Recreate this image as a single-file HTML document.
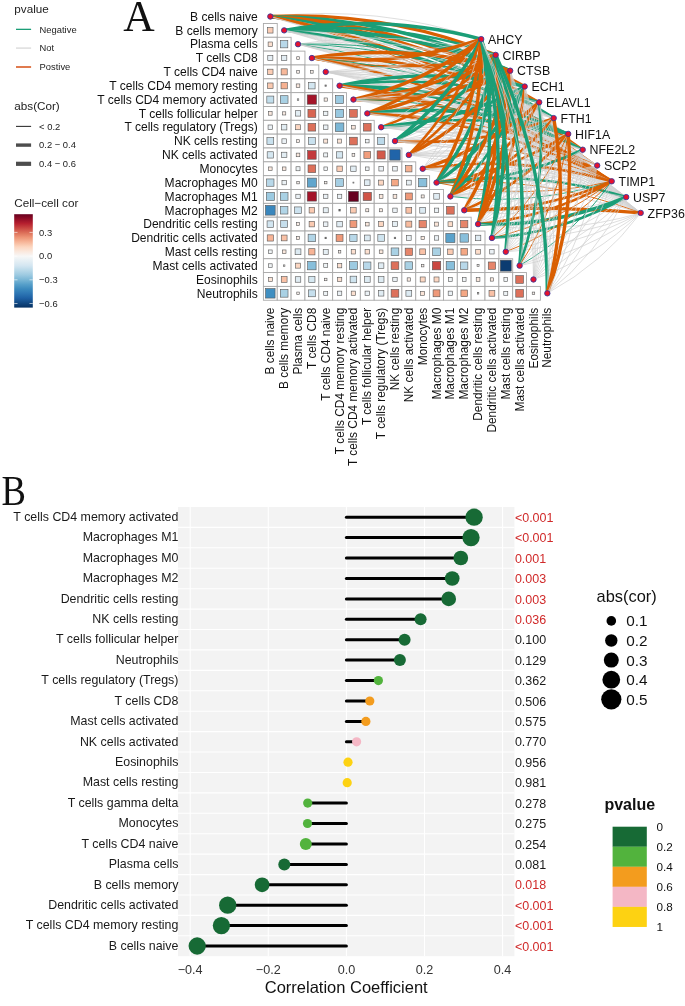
<!DOCTYPE html><html><head><meta charset="utf-8"><style>html,body{margin:0;padding:0;background:#fff;}svg{display:block;will-change:transform;}</style></head><body>
<svg width="685" height="1006" viewBox="0 0 685 1006" font-family='"Liberation Sans", sans-serif'>
<rect width="685" height="1006" fill="#fff"/>
<text x="123.3" y="30.7" font-family='"Liberation Serif", serif' font-size="43.5" fill="#111">A</text>
<text x="14.3" y="13.2" font-size="11.7" fill="#222">pvalue</text>
<line x1="16" y1="29.35" x2="31.1" y2="29.35" stroke="#1B9E77" stroke-width="1.3"/>
<text x="39.6" y="32.6" font-size="9.4" fill="#222">Negative</text>
<line x1="16" y1="48.1" x2="31.1" y2="48.1" stroke="#DDDDDD" stroke-width="1.5"/>
<text x="39.6" y="51.4" font-size="9.4" fill="#222">Not</text>
<line x1="16" y1="67.0" x2="31.1" y2="67.0" stroke="#E07B4F" stroke-width="2.0"/>
<text x="39.6" y="70.3" font-size="9.4" fill="#222">Postive</text>
<text x="14.3" y="110.3" font-size="11.7" fill="#222">abs(Cor)</text>
<line x1="16" y1="126.4" x2="31.1" y2="126.4" stroke="#333" stroke-width="1.1"/>
<text x="39.1" y="129.7" font-size="9.4" fill="#222">&lt; 0.2</text>
<line x1="16" y1="145.1" x2="31.1" y2="145.1" stroke="#4D4D4D" stroke-width="3.4"/>
<text x="39.1" y="148.4" font-size="9.4" fill="#222">0.2 − 0.4</text>
<line x1="16" y1="163.8" x2="31.1" y2="163.8" stroke="#4D4D4D" stroke-width="4.2"/>
<text x="39.1" y="167.1" font-size="9.4" fill="#222">0.4 − 0.6</text>
<text x="14.3" y="207.4" font-size="11.7" fill="#222">Cell−cell cor</text>
<defs><linearGradient id="cb" x1="0" y1="0" x2="0" y2="1">
<stop offset="0.000" stop-color="#67001f"/>
<stop offset="0.050" stop-color="#910d26"/>
<stop offset="0.100" stop-color="#b6202f"/>
<stop offset="0.150" stop-color="#ca4842"/>
<stop offset="0.200" stop-color="#dd7059"/>
<stop offset="0.250" stop-color="#ee9677"/>
<stop offset="0.300" stop-color="#f7b79a"/>
<stop offset="0.350" stop-color="#fcd6c0"/>
<stop offset="0.400" stop-color="#fae8dd"/>
<stop offset="0.450" stop-color="#f7f7f7"/>
<stop offset="0.500" stop-color="#e5eff4"/>
<stop offset="0.550" stop-color="#d4e6f1"/>
<stop offset="0.600" stop-color="#b9d9e9"/>
<stop offset="0.650" stop-color="#9dcae1"/>
<stop offset="0.700" stop-color="#7bb7d6"/>
<stop offset="0.750" stop-color="#57a0ca"/>
<stop offset="0.800" stop-color="#3c8abe"/>
<stop offset="0.850" stop-color="#2d76b4"/>
<stop offset="0.900" stop-color="#1e60a4"/>
<stop offset="0.950" stop-color="#114882"/>
<stop offset="1.000" stop-color="#053061"/>
</linearGradient></defs>
<rect x="14.2" y="214.2" width="18.6" height="93.4" fill="url(#cb)"/>
<line x1="14.2" y1="232.4" x2="17.5" y2="232.4" stroke="#fff" stroke-width="0.6"/>
<line x1="29.5" y1="232.4" x2="32.8" y2="232.4" stroke="#fff" stroke-width="0.6"/>
<text x="39.1" y="235.7" font-size="9.4" fill="#222">0.3</text>
<line x1="14.2" y1="256.1" x2="17.5" y2="256.1" stroke="#fff" stroke-width="0.6"/>
<line x1="29.5" y1="256.1" x2="32.8" y2="256.1" stroke="#fff" stroke-width="0.6"/>
<text x="39.1" y="259.4" font-size="9.4" fill="#222">0.0</text>
<line x1="14.2" y1="279.8" x2="17.5" y2="279.8" stroke="#fff" stroke-width="0.6"/>
<line x1="29.5" y1="279.8" x2="32.8" y2="279.8" stroke="#fff" stroke-width="0.6"/>
<text x="39.1" y="283.1" font-size="9.4" fill="#222">−0.3</text>
<line x1="14.2" y1="303.5" x2="17.5" y2="303.5" stroke="#fff" stroke-width="0.6"/>
<line x1="29.5" y1="303.5" x2="32.8" y2="303.5" stroke="#fff" stroke-width="0.6"/>
<text x="39.1" y="306.8" font-size="9.4" fill="#222">−0.6</text>
<g fill="none" stroke-linecap="butt">
<path d="M270.3 16.5Q378.2 4.6 481.2 39.1" stroke="#D0D0D0" stroke-width="0.7"/>
<path d="M270.3 16.5Q387.2 10.9 495.7 54.9" stroke="#D95F02" stroke-width="3.4"/>
<path d="M270.3 16.5Q396.2 17.2 510.2 70.7" stroke="#1B9E77" stroke-width="3.4"/>
<path d="M270.3 16.5Q405.2 23.5 524.7 86.5" stroke="#D95F02" stroke-width="3.4"/>
<path d="M270.3 16.5Q414.2 29.8 539.2 102.3" stroke="#D95F02" stroke-width="2.6"/>
<path d="M270.3 16.5Q423.2 36.1 553.7 118.1" stroke="#1B9E77" stroke-width="3.4"/>
<path d="M270.3 16.5Q432.2 42.4 568.2 133.9" stroke="#D0D0D0" stroke-width="0.7"/>
<path d="M270.3 16.5Q441.2 48.7 582.7 149.7" stroke="#D95F02" stroke-width="2.6"/>
<path d="M270.3 16.5Q450.2 55.1 597.2 165.5" stroke="#D95F02" stroke-width="0.9"/>
<path d="M270.3 16.5Q459.1 61.4 611.7 181.3" stroke="#D95F02" stroke-width="0.9"/>
<path d="M270.3 16.5Q468.1 67.7 626.2 197.1 M270.3 16.5Q477.1 74.0 640.7 212.9" stroke="#D0D0D0" stroke-width="0.7"/>
<path d="M284.2 30.4Q383.6 13.1 481.2 39.1" stroke="#1B9E77" stroke-width="3.4"/>
<path d="M284.2 30.4Q392.6 19.4 495.7 54.9" stroke="#1B9E77" stroke-width="2.6"/>
<path d="M284.2 30.4Q401.6 25.7 510.2 70.7" stroke="#1B9E77" stroke-width="3.4"/>
<path d="M284.2 30.4Q410.6 32.0 524.7 86.5 M284.2 30.4Q419.6 38.3 539.2 102.3" stroke="#D0D0D0" stroke-width="0.7"/>
<path d="M284.2 30.4Q428.6 44.6 553.7 118.1" stroke="#1B9E77" stroke-width="2.6"/>
<path d="M284.2 30.4Q437.6 50.9 568.2 133.9 M284.2 30.4Q446.6 57.2 582.7 149.7 M284.2 30.4Q455.6 63.5 597.2 165.5 M284.2 30.4Q464.5 69.8 611.7 181.3 M284.2 30.4Q473.5 76.1 626.2 197.1 M284.2 30.4Q482.5 82.4 640.7 212.9 M298.0 44.2Q390.2 61.8 481.2 39.1 M298.0 44.2Q398.0 27.8 495.7 54.9 M298.0 44.2Q407.0 34.1 510.2 70.7" stroke="#D0D0D0" stroke-width="0.7"/>
<path d="M298.0 44.2Q416.0 40.4 524.7 86.5" stroke="#1B9E77" stroke-width="0.9"/>
<path d="M298.0 44.2Q425.0 46.7 539.2 102.3" stroke="#1B9E77" stroke-width="0.9"/>
<path d="M298.0 44.2Q434.0 53.0 553.7 118.1 M298.0 44.2Q443.0 59.3 568.2 133.9" stroke="#D0D0D0" stroke-width="0.7"/>
<path d="M298.0 44.2Q452.0 65.6 582.7 149.7" stroke="#1B9E77" stroke-width="0.9"/>
<path d="M298.0 44.2Q461.0 71.9 597.2 165.5 M298.0 44.2Q469.9 78.2 611.7 181.3 M298.0 44.2Q478.9 84.6 626.2 197.1 M298.0 44.2Q487.9 90.9 640.7 212.9" stroke="#D0D0D0" stroke-width="0.7"/>
<path d="M311.9 58.0Q398.6 67.2 481.2 39.1" stroke="#D95F02" stroke-width="3.4"/>
<path d="M311.9 58.0Q404.1 76.7 495.7 54.9" stroke="#D95F02" stroke-width="2.6"/>
<path d="M311.9 58.0Q412.4 42.6 510.2 70.7" stroke="#D95F02" stroke-width="3.4"/>
<path d="M311.9 58.0Q421.4 48.9 524.7 86.5" stroke="#D0D0D0" stroke-width="0.7"/>
<path d="M311.9 58.0Q430.4 55.2 539.2 102.3" stroke="#D95F02" stroke-width="2.6"/>
<path d="M311.9 58.0Q439.4 61.5 553.7 118.1" stroke="#D0D0D0" stroke-width="0.7"/>
<path d="M311.9 58.0Q448.4 67.8 568.2 133.9" stroke="#1B9E77" stroke-width="0.9"/>
<path d="M311.9 58.0Q457.4 74.1 582.7 149.7 M311.9 58.0Q466.4 80.4 597.2 165.5" stroke="#D0D0D0" stroke-width="0.7"/>
<path d="M311.9 58.0Q475.3 86.7 611.7 181.3" stroke="#D95F02" stroke-width="2.6"/>
<path d="M311.9 58.0Q484.3 93.0 626.2 197.1 M311.9 58.0Q493.3 99.3 640.7 212.9 M325.7 71.9Q407.1 72.6 481.2 39.1 M325.7 71.9Q412.6 82.1 495.7 54.9 M325.7 71.9Q418.1 91.6 510.2 70.7 M325.7 71.9Q426.8 57.3 524.7 86.5 M325.7 71.9Q435.8 63.6 539.2 102.3 M325.7 71.9Q444.8 69.9 553.7 118.1 M325.7 71.9Q453.8 76.2 568.2 133.9 M325.7 71.9Q462.8 82.5 582.7 149.7 M325.7 71.9Q471.8 88.8 597.2 165.5 M325.7 71.9Q480.7 95.1 611.7 181.3 M325.7 71.9Q489.7 101.4 626.2 197.1 M325.7 71.9Q498.7 107.7 640.7 212.9 M339.6 85.7Q415.5 78.0 481.2 39.1 M339.6 85.7Q421.0 87.5 495.7 54.9 M339.6 85.7Q426.5 97.0 510.2 70.7" stroke="#D0D0D0" stroke-width="0.7"/>
<path d="M339.6 85.7Q432.2 65.7 524.7 86.5" stroke="#1B9E77" stroke-width="3.4"/>
<path d="M339.6 85.7Q441.2 72.1 539.2 102.3" stroke="#1B9E77" stroke-width="2.6"/>
<path d="M339.6 85.7Q450.2 78.4 553.7 118.1" stroke="#D0D0D0" stroke-width="0.7"/>
<path d="M339.6 85.7Q459.2 84.7 568.2 133.9" stroke="#1B9E77" stroke-width="2.6"/>
<path d="M339.6 85.7Q468.2 91.0 582.7 149.7" stroke="#1B9E77" stroke-width="2.6"/>
<path d="M339.6 85.7Q477.2 97.3 597.2 165.5" stroke="#D0D0D0" stroke-width="0.7"/>
<path d="M339.6 85.7Q486.2 103.6 611.7 181.3" stroke="#D95F02" stroke-width="3.4"/>
<path d="M339.6 85.7Q495.1 109.9 626.2 197.1 M339.6 85.7Q504.1 116.2 640.7 212.9" stroke="#D0D0D0" stroke-width="0.7"/>
<path d="M353.4 99.6Q424.0 83.4 481.2 39.1" stroke="#D95F02" stroke-width="3.4"/>
<path d="M353.4 99.6Q429.5 92.9 495.7 54.9" stroke="#D95F02" stroke-width="3.4"/>
<path d="M353.4 99.6Q435.0 102.4 510.2 70.7" stroke="#D95F02" stroke-width="3.4"/>
<path d="M353.4 99.6Q440.5 111.9 524.7 86.5 M353.4 99.6Q446.6 80.5 539.2 102.3 M353.4 99.6Q455.6 86.8 553.7 118.1 M353.4 99.6Q464.6 93.1 568.2 133.9" stroke="#D0D0D0" stroke-width="0.7"/>
<path d="M353.4 99.6Q473.6 99.4 582.7 149.7" stroke="#1B9E77" stroke-width="0.9"/>
<path d="M353.4 99.6Q482.6 105.7 597.2 165.5 M353.4 99.6Q491.6 112.0 611.7 181.3 M353.4 99.6Q500.5 118.3 626.2 197.1 M353.4 99.6Q509.5 124.6 640.7 212.9" stroke="#D0D0D0" stroke-width="0.7"/>
<path d="M367.3 113.4Q432.4 88.8 481.2 39.1" stroke="#D95F02" stroke-width="3.4"/>
<path d="M367.3 113.4Q437.9 98.3 495.7 54.9" stroke="#D95F02" stroke-width="3.4"/>
<path d="M367.3 113.4Q443.4 107.8 510.2 70.7" stroke="#D95F02" stroke-width="2.6"/>
<path d="M367.3 113.4Q448.9 117.3 524.7 86.5 M367.3 113.4Q454.5 126.8 539.2 102.3 M367.3 113.4Q461.0 95.2 553.7 118.1" stroke="#D0D0D0" stroke-width="0.7"/>
<path d="M367.3 113.4Q470.0 101.5 568.2 133.9" stroke="#1B9E77" stroke-width="3.4"/>
<path d="M367.3 113.4Q479.0 107.9 582.7 149.7" stroke="#D0D0D0" stroke-width="0.7"/>
<path d="M367.3 113.4Q488.0 114.2 597.2 165.5" stroke="#D95F02" stroke-width="0.9"/>
<path d="M367.3 113.4Q497.0 120.5 611.7 181.3" stroke="#D95F02" stroke-width="2.6"/>
<path d="M367.3 113.4Q505.9 126.8 626.2 197.1 M367.3 113.4Q514.9 133.1 640.7 212.9 M381.1 127.2Q440.9 94.2 481.2 39.1" stroke="#D0D0D0" stroke-width="0.7"/>
<path d="M381.1 127.2Q446.4 103.7 495.7 54.9" stroke="#D95F02" stroke-width="2.6"/>
<path d="M381.1 127.2Q451.9 113.2 510.2 70.7" stroke="#D0D0D0" stroke-width="0.7"/>
<path d="M381.1 127.2Q457.4 122.7 524.7 86.5" stroke="#1B9E77" stroke-width="3.4"/>
<path d="M381.1 127.2Q462.9 132.2 539.2 102.3 M381.1 127.2Q468.4 141.7 553.7 118.1" stroke="#D0D0D0" stroke-width="0.7"/>
<path d="M381.1 127.2Q475.4 110.0 568.2 133.9" stroke="#1B9E77" stroke-width="2.6"/>
<path d="M381.1 127.2Q484.4 116.3 582.7 149.7 M381.1 127.2Q493.4 122.6 597.2 165.5 M381.1 127.2Q502.4 128.9 611.7 181.3 M381.1 127.2Q511.3 135.2 626.2 197.1 M381.1 127.2Q520.3 141.5 640.7 212.9" stroke="#D0D0D0" stroke-width="0.7"/>
<path d="M395.0 141.1Q449.3 99.6 481.2 39.1" stroke="#1B9E77" stroke-width="3.4"/>
<path d="M395.0 141.1Q454.8 109.1 495.7 54.9" stroke="#1B9E77" stroke-width="3.4"/>
<path d="M395.0 141.1Q460.3 118.6 510.2 70.7 M395.0 141.1Q465.8 128.1 524.7 86.5 M395.0 141.1Q471.4 137.6 539.2 102.3" stroke="#D0D0D0" stroke-width="0.7"/>
<path d="M395.0 141.1Q476.9 147.0 553.7 118.1" stroke="#D95F02" stroke-width="2.6"/>
<path d="M395.0 141.1Q482.4 156.5 568.2 133.9 M395.0 141.1Q489.8 124.7 582.7 149.7 M395.0 141.1Q498.8 131.0 597.2 165.5" stroke="#D0D0D0" stroke-width="0.7"/>
<path d="M395.0 141.1Q507.8 137.4 611.7 181.3" stroke="#D95F02" stroke-width="0.9"/>
<path d="M395.0 141.1Q516.7 143.7 626.2 197.1 M395.0 141.1Q525.7 150.0 640.7 212.9" stroke="#D0D0D0" stroke-width="0.7"/>
<path d="M408.8 154.9Q457.8 105.0 481.2 39.1" stroke="#D95F02" stroke-width="2.6"/>
<path d="M408.8 154.9Q463.3 114.5 495.7 54.9" stroke="#D95F02" stroke-width="2.6"/>
<path d="M408.8 154.9Q468.8 124.0 510.2 70.7" stroke="#D95F02" stroke-width="3.4"/>
<path d="M408.8 154.9Q474.3 133.5 524.7 86.5 M408.8 154.9Q479.8 143.0 539.2 102.3 M408.8 154.9Q485.3 152.4 553.7 118.1 M408.8 154.9Q490.8 161.9 568.2 133.9 M408.8 154.9Q496.3 171.4 582.7 149.7 M408.8 154.9Q504.2 139.5 597.2 165.5 M408.8 154.9Q513.2 145.8 611.7 181.3 M408.8 154.9Q522.2 152.1 626.2 197.1 M408.8 154.9Q531.1 158.4 640.7 212.9 M422.7 168.8Q466.2 110.4 481.2 39.1 M422.7 168.8Q471.7 119.9 495.7 54.9 M422.7 168.8Q477.2 129.4 510.2 70.7 M422.7 168.8Q482.7 138.9 524.7 86.5" stroke="#D0D0D0" stroke-width="0.7"/>
<path d="M422.7 168.8Q488.2 148.3 539.2 102.3" stroke="#D95F02" stroke-width="3.4"/>
<path d="M422.7 168.8Q493.8 157.8 553.7 118.1 M422.7 168.8Q499.3 167.3 568.2 133.9 M422.7 168.8Q504.8 176.8 582.7 149.7 M422.7 168.8Q510.3 186.3 597.2 165.5" stroke="#D0D0D0" stroke-width="0.7"/>
<path d="M422.7 168.8Q518.6 154.2 611.7 181.3" stroke="#D95F02" stroke-width="2.6"/>
<path d="M422.7 168.8Q527.6 160.5 626.2 197.1 M422.7 168.8Q536.5 166.8 640.7 212.9" stroke="#D0D0D0" stroke-width="0.7"/>
<path d="M436.5 182.6Q474.6 115.8 481.2 39.1" stroke="#D95F02" stroke-width="3.4"/>
<path d="M436.5 182.6Q480.2 125.3 495.7 54.9" stroke="#1B9E77" stroke-width="3.4"/>
<path d="M436.5 182.6Q485.7 134.8 510.2 70.7" stroke="#D0D0D0" stroke-width="0.7"/>
<path d="M436.5 182.6Q491.2 144.2 524.7 86.5" stroke="#1B9E77" stroke-width="3.4"/>
<path d="M436.5 182.6Q496.7 153.7 539.2 102.3 M436.5 182.6Q502.2 163.2 553.7 118.1" stroke="#D0D0D0" stroke-width="0.7"/>
<path d="M436.5 182.6Q507.7 172.7 568.2 133.9" stroke="#D95F02" stroke-width="2.6"/>
<path d="M436.5 182.6Q513.2 182.2 582.7 149.7" stroke="#1B9E77" stroke-width="2.6"/>
<path d="M436.5 182.6Q518.7 191.7 597.2 165.5" stroke="#D0D0D0" stroke-width="0.7"/>
<path d="M436.5 182.6Q524.3 201.2 611.7 181.3" stroke="#D95F02" stroke-width="0.9"/>
<path d="M436.5 182.6Q533.0 169.0 626.2 197.1" stroke="#1B9E77" stroke-width="2.6"/>
<path d="M436.5 182.6Q541.9 175.3 640.7 212.9" stroke="#D95F02" stroke-width="0.9"/>
<path d="M450.4 196.4Q483.1 121.2 481.2 39.1" stroke="#D95F02" stroke-width="3.4"/>
<path d="M450.4 196.4Q488.6 130.7 495.7 54.9" stroke="#1B9E77" stroke-width="3.4"/>
<path d="M450.4 196.4Q494.1 140.2 510.2 70.7" stroke="#D95F02" stroke-width="3.4"/>
<path d="M450.4 196.4Q499.6 149.6 524.7 86.5" stroke="#1B9E77" stroke-width="2.6"/>
<path d="M450.4 196.4Q505.1 159.1 539.2 102.3" stroke="#D95F02" stroke-width="2.6"/>
<path d="M450.4 196.4Q510.7 168.6 553.7 118.1" stroke="#D95F02" stroke-width="2.6"/>
<path d="M450.4 196.4Q516.2 178.1 568.2 133.9 M450.4 196.4Q521.7 187.6 582.7 149.7 M450.4 196.4Q527.2 197.1 597.2 165.5" stroke="#D0D0D0" stroke-width="0.7"/>
<path d="M450.4 196.4Q532.7 206.6 611.7 181.3" stroke="#1B9E77" stroke-width="0.9"/>
<path d="M450.4 196.4Q538.4 177.4 626.2 197.1 M450.4 196.4Q547.3 183.7 640.7 212.9 M464.2 210.3Q491.5 126.6 481.2 39.1 M464.2 210.3Q497.1 136.1 495.7 54.9" stroke="#D0D0D0" stroke-width="0.7"/>
<path d="M464.2 210.3Q502.6 145.5 510.2 70.7" stroke="#D95F02" stroke-width="3.4"/>
<path d="M464.2 210.3Q508.1 155.0 524.7 86.5 M464.2 210.3Q513.6 164.5 539.2 102.3 M464.2 210.3Q519.1 174.0 553.7 118.1" stroke="#D0D0D0" stroke-width="0.7"/>
<path d="M464.2 210.3Q524.6 183.5 568.2 133.9" stroke="#D95F02" stroke-width="2.6"/>
<path d="M464.2 210.3Q530.1 193.0 582.7 149.7 M464.2 210.3Q535.6 202.5 597.2 165.5" stroke="#D0D0D0" stroke-width="0.7"/>
<path d="M464.2 210.3Q541.2 212.0 611.7 181.3" stroke="#D95F02" stroke-width="2.6"/>
<path d="M464.2 210.3Q546.7 221.5 626.2 197.1" stroke="#D0D0D0" stroke-width="0.7"/>
<path d="M464.2 210.3Q552.6 205.4 640.7 212.9" stroke="#D95F02" stroke-width="3.4"/>
<path d="M478.1 224.1Q500.0 132.0 481.2 39.1" stroke="#1B9E77" stroke-width="3.4"/>
<path d="M478.1 224.1Q505.5 141.4 495.7 54.9" stroke="#D95F02" stroke-width="3.4"/>
<path d="M478.1 224.1Q511.0 150.9 510.2 70.7" stroke="#D95F02" stroke-width="3.4"/>
<path d="M478.1 224.1Q516.5 160.4 524.7 86.5" stroke="#D95F02" stroke-width="2.6"/>
<path d="M478.1 224.1Q522.0 169.9 539.2 102.3 M478.1 224.1Q527.5 179.4 553.7 118.1 M478.1 224.1Q533.1 188.9 568.2 133.9 M478.1 224.1Q538.6 198.4 582.7 149.7 M478.1 224.1Q544.1 207.9 597.2 165.5" stroke="#D0D0D0" stroke-width="0.7"/>
<path d="M478.1 224.1Q549.6 217.4 611.7 181.3" stroke="#D95F02" stroke-width="2.6"/>
<path d="M478.1 224.1Q555.1 226.9 626.2 197.1" stroke="#1B9E77" stroke-width="3.4"/>
<path d="M478.1 224.1Q560.6 236.4 640.7 212.9" stroke="#D0D0D0" stroke-width="0.7"/>
<path d="M491.9 238.0Q508.4 137.4 481.2 39.1" stroke="#1B9E77" stroke-width="3.4"/>
<path d="M491.9 238.0Q513.9 146.8 495.7 54.9" stroke="#1B9E77" stroke-width="3.4"/>
<path d="M491.9 238.0Q519.5 156.3 510.2 70.7 M491.9 238.0Q525.0 165.8 524.7 86.5 M491.9 238.0Q530.5 175.3 539.2 102.3 M491.9 238.0Q536.0 184.8 553.7 118.1" stroke="#D0D0D0" stroke-width="0.7"/>
<path d="M491.9 238.0Q541.5 194.3 568.2 133.9" stroke="#D95F02" stroke-width="0.9"/>
<path d="M491.9 238.0Q547.0 203.8 582.7 149.7 M491.9 238.0Q552.5 213.3 597.2 165.5" stroke="#D0D0D0" stroke-width="0.7"/>
<path d="M491.9 238.0Q558.0 222.8 611.7 181.3" stroke="#D95F02" stroke-width="0.9"/>
<path d="M491.9 238.0Q563.6 232.3 626.2 197.1" stroke="#1B9E77" stroke-width="2.6"/>
<path d="M491.9 238.0Q569.1 241.8 640.7 212.9" stroke="#D0D0D0" stroke-width="0.7"/>
<path d="M505.8 251.8Q516.9 142.7 481.2 39.1" stroke="#1B9E77" stroke-width="3.4"/>
<path d="M505.8 251.8Q522.4 152.2 495.7 54.9 M505.8 251.8Q527.9 161.7 510.2 70.7 M505.8 251.8Q533.4 171.2 524.7 86.5 M505.8 251.8Q538.9 180.7 539.2 102.3 M505.8 251.8Q544.4 190.2 553.7 118.1 M505.8 251.8Q550.0 199.7 568.2 133.9 M505.8 251.8Q555.5 209.2 582.7 149.7 M505.8 251.8Q561.0 218.7 597.2 165.5" stroke="#D0D0D0" stroke-width="0.7"/>
<path d="M505.8 251.8Q566.5 228.2 611.7 181.3" stroke="#D95F02" stroke-width="0.9"/>
<path d="M505.8 251.8Q572.0 237.7 626.2 197.1 M505.8 251.8Q577.5 247.2 640.7 212.9 M519.6 265.6Q525.3 148.1 481.2 39.1" stroke="#D0D0D0" stroke-width="0.7"/>
<path d="M519.6 265.6Q530.8 157.6 495.7 54.9" stroke="#1B9E77" stroke-width="3.4"/>
<path d="M519.6 265.6Q536.4 167.1 510.2 70.7 M519.6 265.6Q541.9 176.6 524.7 86.5" stroke="#D0D0D0" stroke-width="0.7"/>
<path d="M519.6 265.6Q547.4 186.1 539.2 102.3" stroke="#1B9E77" stroke-width="2.6"/>
<path d="M519.6 265.6Q552.9 195.6 553.7 118.1" stroke="#D0D0D0" stroke-width="0.7"/>
<path d="M519.6 265.6Q558.4 205.1 568.2 133.9" stroke="#D95F02" stroke-width="0.9"/>
<path d="M519.6 265.6Q563.9 214.6 582.7 149.7 M519.6 265.6Q569.4 224.1 597.2 165.5" stroke="#D0D0D0" stroke-width="0.7"/>
<path d="M519.6 265.6Q574.9 233.6 611.7 181.3" stroke="#1B9E77" stroke-width="0.9"/>
<path d="M519.6 265.6Q580.5 243.1 626.2 197.1 M519.6 265.6Q586.0 252.6 640.7 212.9 M533.5 279.5Q533.8 153.5 481.2 39.1 M533.5 279.5Q539.3 163.0 495.7 54.9 M533.5 279.5Q544.8 172.5 510.2 70.7 M533.5 279.5Q550.3 182.0 524.7 86.5 M533.5 279.5Q555.8 191.5 539.2 102.3 M533.5 279.5Q561.3 201.0 553.7 118.1 M533.5 279.5Q566.9 210.5 568.2 133.9 M533.5 279.5Q572.4 220.0 582.7 149.7 M533.5 279.5Q577.9 229.5 597.2 165.5 M533.5 279.5Q583.4 239.0 611.7 181.3 M533.5 279.5Q588.9 248.5 626.2 197.1 M533.5 279.5Q594.4 258.0 640.7 212.9 M547.3 293.3Q542.2 158.9 481.2 39.1" stroke="#D0D0D0" stroke-width="0.7"/>
<path d="M547.3 293.3Q547.7 168.4 495.7 54.9" stroke="#1B9E77" stroke-width="3.4"/>
<path d="M547.3 293.3Q553.3 177.9 510.2 70.7 M547.3 293.3Q558.8 187.4 524.7 86.5 M547.3 293.3Q564.3 196.9 539.2 102.3" stroke="#D0D0D0" stroke-width="0.7"/>
<path d="M547.3 293.3Q569.8 206.4 553.7 118.1" stroke="#D95F02" stroke-width="3.4"/>
<path d="M547.3 293.3Q575.3 215.9 568.2 133.9" stroke="#D95F02" stroke-width="3.4"/>
<path d="M547.3 293.3Q580.8 225.4 582.7 149.7 M547.3 293.3Q586.3 234.9 597.2 165.5 M547.3 293.3Q591.8 244.4 611.7 181.3 M547.3 293.3Q597.3 253.9 626.2 197.1 M547.3 293.3Q602.9 263.4 640.7 212.9" stroke="#D0D0D0" stroke-width="0.7"/>
</g>
<rect x="263.40" y="23.44" width="13.85" height="13.84" fill="#fff" stroke="#A8A8A8" stroke-width="0.9"/>
<rect x="263.40" y="37.28" width="13.85" height="13.84" fill="#fff" stroke="#A8A8A8" stroke-width="0.9"/>
<rect x="277.25" y="37.28" width="13.85" height="13.84" fill="#fff" stroke="#A8A8A8" stroke-width="0.9"/>
<rect x="263.40" y="51.12" width="13.85" height="13.84" fill="#fff" stroke="#A8A8A8" stroke-width="0.9"/>
<rect x="277.25" y="51.12" width="13.85" height="13.84" fill="#fff" stroke="#A8A8A8" stroke-width="0.9"/>
<rect x="291.10" y="51.12" width="13.85" height="13.84" fill="#fff" stroke="#A8A8A8" stroke-width="0.9"/>
<rect x="263.40" y="64.96" width="13.85" height="13.84" fill="#fff" stroke="#A8A8A8" stroke-width="0.9"/>
<rect x="277.25" y="64.96" width="13.85" height="13.84" fill="#fff" stroke="#A8A8A8" stroke-width="0.9"/>
<rect x="291.10" y="64.96" width="13.85" height="13.84" fill="#fff" stroke="#A8A8A8" stroke-width="0.9"/>
<rect x="304.95" y="64.96" width="13.85" height="13.84" fill="#fff" stroke="#A8A8A8" stroke-width="0.9"/>
<rect x="263.40" y="78.80" width="13.85" height="13.84" fill="#fff" stroke="#A8A8A8" stroke-width="0.9"/>
<rect x="277.25" y="78.80" width="13.85" height="13.84" fill="#fff" stroke="#A8A8A8" stroke-width="0.9"/>
<rect x="291.10" y="78.80" width="13.85" height="13.84" fill="#fff" stroke="#A8A8A8" stroke-width="0.9"/>
<rect x="304.95" y="78.80" width="13.85" height="13.84" fill="#fff" stroke="#A8A8A8" stroke-width="0.9"/>
<rect x="318.80" y="78.80" width="13.85" height="13.84" fill="#fff" stroke="#A8A8A8" stroke-width="0.9"/>
<rect x="263.40" y="92.64" width="13.85" height="13.84" fill="#fff" stroke="#A8A8A8" stroke-width="0.9"/>
<rect x="277.25" y="92.64" width="13.85" height="13.84" fill="#fff" stroke="#A8A8A8" stroke-width="0.9"/>
<rect x="291.10" y="92.64" width="13.85" height="13.84" fill="#fff" stroke="#A8A8A8" stroke-width="0.9"/>
<rect x="304.95" y="92.64" width="13.85" height="13.84" fill="#fff" stroke="#A8A8A8" stroke-width="0.9"/>
<rect x="318.80" y="92.64" width="13.85" height="13.84" fill="#fff" stroke="#A8A8A8" stroke-width="0.9"/>
<rect x="332.65" y="92.64" width="13.85" height="13.84" fill="#fff" stroke="#A8A8A8" stroke-width="0.9"/>
<rect x="263.40" y="106.48" width="13.85" height="13.84" fill="#fff" stroke="#A8A8A8" stroke-width="0.9"/>
<rect x="277.25" y="106.48" width="13.85" height="13.84" fill="#fff" stroke="#A8A8A8" stroke-width="0.9"/>
<rect x="291.10" y="106.48" width="13.85" height="13.84" fill="#fff" stroke="#A8A8A8" stroke-width="0.9"/>
<rect x="304.95" y="106.48" width="13.85" height="13.84" fill="#fff" stroke="#A8A8A8" stroke-width="0.9"/>
<rect x="318.80" y="106.48" width="13.85" height="13.84" fill="#fff" stroke="#A8A8A8" stroke-width="0.9"/>
<rect x="332.65" y="106.48" width="13.85" height="13.84" fill="#fff" stroke="#A8A8A8" stroke-width="0.9"/>
<rect x="346.50" y="106.48" width="13.85" height="13.84" fill="#fff" stroke="#A8A8A8" stroke-width="0.9"/>
<rect x="263.40" y="120.32" width="13.85" height="13.84" fill="#fff" stroke="#A8A8A8" stroke-width="0.9"/>
<rect x="277.25" y="120.32" width="13.85" height="13.84" fill="#fff" stroke="#A8A8A8" stroke-width="0.9"/>
<rect x="291.10" y="120.32" width="13.85" height="13.84" fill="#fff" stroke="#A8A8A8" stroke-width="0.9"/>
<rect x="304.95" y="120.32" width="13.85" height="13.84" fill="#fff" stroke="#A8A8A8" stroke-width="0.9"/>
<rect x="318.80" y="120.32" width="13.85" height="13.84" fill="#fff" stroke="#A8A8A8" stroke-width="0.9"/>
<rect x="332.65" y="120.32" width="13.85" height="13.84" fill="#fff" stroke="#A8A8A8" stroke-width="0.9"/>
<rect x="346.50" y="120.32" width="13.85" height="13.84" fill="#fff" stroke="#A8A8A8" stroke-width="0.9"/>
<rect x="360.35" y="120.32" width="13.85" height="13.84" fill="#fff" stroke="#A8A8A8" stroke-width="0.9"/>
<rect x="263.40" y="134.16" width="13.85" height="13.84" fill="#fff" stroke="#A8A8A8" stroke-width="0.9"/>
<rect x="277.25" y="134.16" width="13.85" height="13.84" fill="#fff" stroke="#A8A8A8" stroke-width="0.9"/>
<rect x="291.10" y="134.16" width="13.85" height="13.84" fill="#fff" stroke="#A8A8A8" stroke-width="0.9"/>
<rect x="304.95" y="134.16" width="13.85" height="13.84" fill="#fff" stroke="#A8A8A8" stroke-width="0.9"/>
<rect x="318.80" y="134.16" width="13.85" height="13.84" fill="#fff" stroke="#A8A8A8" stroke-width="0.9"/>
<rect x="332.65" y="134.16" width="13.85" height="13.84" fill="#fff" stroke="#A8A8A8" stroke-width="0.9"/>
<rect x="346.50" y="134.16" width="13.85" height="13.84" fill="#fff" stroke="#A8A8A8" stroke-width="0.9"/>
<rect x="360.35" y="134.16" width="13.85" height="13.84" fill="#fff" stroke="#A8A8A8" stroke-width="0.9"/>
<rect x="374.20" y="134.16" width="13.85" height="13.84" fill="#fff" stroke="#A8A8A8" stroke-width="0.9"/>
<rect x="263.40" y="148.00" width="13.85" height="13.84" fill="#fff" stroke="#A8A8A8" stroke-width="0.9"/>
<rect x="277.25" y="148.00" width="13.85" height="13.84" fill="#fff" stroke="#A8A8A8" stroke-width="0.9"/>
<rect x="291.10" y="148.00" width="13.85" height="13.84" fill="#fff" stroke="#A8A8A8" stroke-width="0.9"/>
<rect x="304.95" y="148.00" width="13.85" height="13.84" fill="#fff" stroke="#A8A8A8" stroke-width="0.9"/>
<rect x="318.80" y="148.00" width="13.85" height="13.84" fill="#fff" stroke="#A8A8A8" stroke-width="0.9"/>
<rect x="332.65" y="148.00" width="13.85" height="13.84" fill="#fff" stroke="#A8A8A8" stroke-width="0.9"/>
<rect x="346.50" y="148.00" width="13.85" height="13.84" fill="#fff" stroke="#A8A8A8" stroke-width="0.9"/>
<rect x="360.35" y="148.00" width="13.85" height="13.84" fill="#fff" stroke="#A8A8A8" stroke-width="0.9"/>
<rect x="374.20" y="148.00" width="13.85" height="13.84" fill="#fff" stroke="#A8A8A8" stroke-width="0.9"/>
<rect x="388.05" y="148.00" width="13.85" height="13.84" fill="#fff" stroke="#A8A8A8" stroke-width="0.9"/>
<rect x="263.40" y="161.84" width="13.85" height="13.84" fill="#fff" stroke="#A8A8A8" stroke-width="0.9"/>
<rect x="277.25" y="161.84" width="13.85" height="13.84" fill="#fff" stroke="#A8A8A8" stroke-width="0.9"/>
<rect x="291.10" y="161.84" width="13.85" height="13.84" fill="#fff" stroke="#A8A8A8" stroke-width="0.9"/>
<rect x="304.95" y="161.84" width="13.85" height="13.84" fill="#fff" stroke="#A8A8A8" stroke-width="0.9"/>
<rect x="318.80" y="161.84" width="13.85" height="13.84" fill="#fff" stroke="#A8A8A8" stroke-width="0.9"/>
<rect x="332.65" y="161.84" width="13.85" height="13.84" fill="#fff" stroke="#A8A8A8" stroke-width="0.9"/>
<rect x="346.50" y="161.84" width="13.85" height="13.84" fill="#fff" stroke="#A8A8A8" stroke-width="0.9"/>
<rect x="360.35" y="161.84" width="13.85" height="13.84" fill="#fff" stroke="#A8A8A8" stroke-width="0.9"/>
<rect x="374.20" y="161.84" width="13.85" height="13.84" fill="#fff" stroke="#A8A8A8" stroke-width="0.9"/>
<rect x="388.05" y="161.84" width="13.85" height="13.84" fill="#fff" stroke="#A8A8A8" stroke-width="0.9"/>
<rect x="401.90" y="161.84" width="13.85" height="13.84" fill="#fff" stroke="#A8A8A8" stroke-width="0.9"/>
<rect x="263.40" y="175.68" width="13.85" height="13.84" fill="#fff" stroke="#A8A8A8" stroke-width="0.9"/>
<rect x="277.25" y="175.68" width="13.85" height="13.84" fill="#fff" stroke="#A8A8A8" stroke-width="0.9"/>
<rect x="291.10" y="175.68" width="13.85" height="13.84" fill="#fff" stroke="#A8A8A8" stroke-width="0.9"/>
<rect x="304.95" y="175.68" width="13.85" height="13.84" fill="#fff" stroke="#A8A8A8" stroke-width="0.9"/>
<rect x="318.80" y="175.68" width="13.85" height="13.84" fill="#fff" stroke="#A8A8A8" stroke-width="0.9"/>
<rect x="332.65" y="175.68" width="13.85" height="13.84" fill="#fff" stroke="#A8A8A8" stroke-width="0.9"/>
<rect x="346.50" y="175.68" width="13.85" height="13.84" fill="#fff" stroke="#A8A8A8" stroke-width="0.9"/>
<rect x="360.35" y="175.68" width="13.85" height="13.84" fill="#fff" stroke="#A8A8A8" stroke-width="0.9"/>
<rect x="374.20" y="175.68" width="13.85" height="13.84" fill="#fff" stroke="#A8A8A8" stroke-width="0.9"/>
<rect x="388.05" y="175.68" width="13.85" height="13.84" fill="#fff" stroke="#A8A8A8" stroke-width="0.9"/>
<rect x="401.90" y="175.68" width="13.85" height="13.84" fill="#fff" stroke="#A8A8A8" stroke-width="0.9"/>
<rect x="415.75" y="175.68" width="13.85" height="13.84" fill="#fff" stroke="#A8A8A8" stroke-width="0.9"/>
<rect x="263.40" y="189.52" width="13.85" height="13.84" fill="#fff" stroke="#A8A8A8" stroke-width="0.9"/>
<rect x="277.25" y="189.52" width="13.85" height="13.84" fill="#fff" stroke="#A8A8A8" stroke-width="0.9"/>
<rect x="291.10" y="189.52" width="13.85" height="13.84" fill="#fff" stroke="#A8A8A8" stroke-width="0.9"/>
<rect x="304.95" y="189.52" width="13.85" height="13.84" fill="#fff" stroke="#A8A8A8" stroke-width="0.9"/>
<rect x="318.80" y="189.52" width="13.85" height="13.84" fill="#fff" stroke="#A8A8A8" stroke-width="0.9"/>
<rect x="332.65" y="189.52" width="13.85" height="13.84" fill="#fff" stroke="#A8A8A8" stroke-width="0.9"/>
<rect x="346.50" y="189.52" width="13.85" height="13.84" fill="#fff" stroke="#A8A8A8" stroke-width="0.9"/>
<rect x="360.35" y="189.52" width="13.85" height="13.84" fill="#fff" stroke="#A8A8A8" stroke-width="0.9"/>
<rect x="374.20" y="189.52" width="13.85" height="13.84" fill="#fff" stroke="#A8A8A8" stroke-width="0.9"/>
<rect x="388.05" y="189.52" width="13.85" height="13.84" fill="#fff" stroke="#A8A8A8" stroke-width="0.9"/>
<rect x="401.90" y="189.52" width="13.85" height="13.84" fill="#fff" stroke="#A8A8A8" stroke-width="0.9"/>
<rect x="415.75" y="189.52" width="13.85" height="13.84" fill="#fff" stroke="#A8A8A8" stroke-width="0.9"/>
<rect x="429.60" y="189.52" width="13.85" height="13.84" fill="#fff" stroke="#A8A8A8" stroke-width="0.9"/>
<rect x="263.40" y="203.36" width="13.85" height="13.84" fill="#fff" stroke="#A8A8A8" stroke-width="0.9"/>
<rect x="277.25" y="203.36" width="13.85" height="13.84" fill="#fff" stroke="#A8A8A8" stroke-width="0.9"/>
<rect x="291.10" y="203.36" width="13.85" height="13.84" fill="#fff" stroke="#A8A8A8" stroke-width="0.9"/>
<rect x="304.95" y="203.36" width="13.85" height="13.84" fill="#fff" stroke="#A8A8A8" stroke-width="0.9"/>
<rect x="318.80" y="203.36" width="13.85" height="13.84" fill="#fff" stroke="#A8A8A8" stroke-width="0.9"/>
<rect x="332.65" y="203.36" width="13.85" height="13.84" fill="#fff" stroke="#A8A8A8" stroke-width="0.9"/>
<rect x="346.50" y="203.36" width="13.85" height="13.84" fill="#fff" stroke="#A8A8A8" stroke-width="0.9"/>
<rect x="360.35" y="203.36" width="13.85" height="13.84" fill="#fff" stroke="#A8A8A8" stroke-width="0.9"/>
<rect x="374.20" y="203.36" width="13.85" height="13.84" fill="#fff" stroke="#A8A8A8" stroke-width="0.9"/>
<rect x="388.05" y="203.36" width="13.85" height="13.84" fill="#fff" stroke="#A8A8A8" stroke-width="0.9"/>
<rect x="401.90" y="203.36" width="13.85" height="13.84" fill="#fff" stroke="#A8A8A8" stroke-width="0.9"/>
<rect x="415.75" y="203.36" width="13.85" height="13.84" fill="#fff" stroke="#A8A8A8" stroke-width="0.9"/>
<rect x="429.60" y="203.36" width="13.85" height="13.84" fill="#fff" stroke="#A8A8A8" stroke-width="0.9"/>
<rect x="443.45" y="203.36" width="13.85" height="13.84" fill="#fff" stroke="#A8A8A8" stroke-width="0.9"/>
<rect x="263.40" y="217.20" width="13.85" height="13.84" fill="#fff" stroke="#A8A8A8" stroke-width="0.9"/>
<rect x="277.25" y="217.20" width="13.85" height="13.84" fill="#fff" stroke="#A8A8A8" stroke-width="0.9"/>
<rect x="291.10" y="217.20" width="13.85" height="13.84" fill="#fff" stroke="#A8A8A8" stroke-width="0.9"/>
<rect x="304.95" y="217.20" width="13.85" height="13.84" fill="#fff" stroke="#A8A8A8" stroke-width="0.9"/>
<rect x="318.80" y="217.20" width="13.85" height="13.84" fill="#fff" stroke="#A8A8A8" stroke-width="0.9"/>
<rect x="332.65" y="217.20" width="13.85" height="13.84" fill="#fff" stroke="#A8A8A8" stroke-width="0.9"/>
<rect x="346.50" y="217.20" width="13.85" height="13.84" fill="#fff" stroke="#A8A8A8" stroke-width="0.9"/>
<rect x="360.35" y="217.20" width="13.85" height="13.84" fill="#fff" stroke="#A8A8A8" stroke-width="0.9"/>
<rect x="374.20" y="217.20" width="13.85" height="13.84" fill="#fff" stroke="#A8A8A8" stroke-width="0.9"/>
<rect x="388.05" y="217.20" width="13.85" height="13.84" fill="#fff" stroke="#A8A8A8" stroke-width="0.9"/>
<rect x="401.90" y="217.20" width="13.85" height="13.84" fill="#fff" stroke="#A8A8A8" stroke-width="0.9"/>
<rect x="415.75" y="217.20" width="13.85" height="13.84" fill="#fff" stroke="#A8A8A8" stroke-width="0.9"/>
<rect x="429.60" y="217.20" width="13.85" height="13.84" fill="#fff" stroke="#A8A8A8" stroke-width="0.9"/>
<rect x="443.45" y="217.20" width="13.85" height="13.84" fill="#fff" stroke="#A8A8A8" stroke-width="0.9"/>
<rect x="457.30" y="217.20" width="13.85" height="13.84" fill="#fff" stroke="#A8A8A8" stroke-width="0.9"/>
<rect x="263.40" y="231.04" width="13.85" height="13.84" fill="#fff" stroke="#A8A8A8" stroke-width="0.9"/>
<rect x="277.25" y="231.04" width="13.85" height="13.84" fill="#fff" stroke="#A8A8A8" stroke-width="0.9"/>
<rect x="291.10" y="231.04" width="13.85" height="13.84" fill="#fff" stroke="#A8A8A8" stroke-width="0.9"/>
<rect x="304.95" y="231.04" width="13.85" height="13.84" fill="#fff" stroke="#A8A8A8" stroke-width="0.9"/>
<rect x="318.80" y="231.04" width="13.85" height="13.84" fill="#fff" stroke="#A8A8A8" stroke-width="0.9"/>
<rect x="332.65" y="231.04" width="13.85" height="13.84" fill="#fff" stroke="#A8A8A8" stroke-width="0.9"/>
<rect x="346.50" y="231.04" width="13.85" height="13.84" fill="#fff" stroke="#A8A8A8" stroke-width="0.9"/>
<rect x="360.35" y="231.04" width="13.85" height="13.84" fill="#fff" stroke="#A8A8A8" stroke-width="0.9"/>
<rect x="374.20" y="231.04" width="13.85" height="13.84" fill="#fff" stroke="#A8A8A8" stroke-width="0.9"/>
<rect x="388.05" y="231.04" width="13.85" height="13.84" fill="#fff" stroke="#A8A8A8" stroke-width="0.9"/>
<rect x="401.90" y="231.04" width="13.85" height="13.84" fill="#fff" stroke="#A8A8A8" stroke-width="0.9"/>
<rect x="415.75" y="231.04" width="13.85" height="13.84" fill="#fff" stroke="#A8A8A8" stroke-width="0.9"/>
<rect x="429.60" y="231.04" width="13.85" height="13.84" fill="#fff" stroke="#A8A8A8" stroke-width="0.9"/>
<rect x="443.45" y="231.04" width="13.85" height="13.84" fill="#fff" stroke="#A8A8A8" stroke-width="0.9"/>
<rect x="457.30" y="231.04" width="13.85" height="13.84" fill="#fff" stroke="#A8A8A8" stroke-width="0.9"/>
<rect x="471.15" y="231.04" width="13.85" height="13.84" fill="#fff" stroke="#A8A8A8" stroke-width="0.9"/>
<rect x="263.40" y="244.88" width="13.85" height="13.84" fill="#fff" stroke="#A8A8A8" stroke-width="0.9"/>
<rect x="277.25" y="244.88" width="13.85" height="13.84" fill="#fff" stroke="#A8A8A8" stroke-width="0.9"/>
<rect x="291.10" y="244.88" width="13.85" height="13.84" fill="#fff" stroke="#A8A8A8" stroke-width="0.9"/>
<rect x="304.95" y="244.88" width="13.85" height="13.84" fill="#fff" stroke="#A8A8A8" stroke-width="0.9"/>
<rect x="318.80" y="244.88" width="13.85" height="13.84" fill="#fff" stroke="#A8A8A8" stroke-width="0.9"/>
<rect x="332.65" y="244.88" width="13.85" height="13.84" fill="#fff" stroke="#A8A8A8" stroke-width="0.9"/>
<rect x="346.50" y="244.88" width="13.85" height="13.84" fill="#fff" stroke="#A8A8A8" stroke-width="0.9"/>
<rect x="360.35" y="244.88" width="13.85" height="13.84" fill="#fff" stroke="#A8A8A8" stroke-width="0.9"/>
<rect x="374.20" y="244.88" width="13.85" height="13.84" fill="#fff" stroke="#A8A8A8" stroke-width="0.9"/>
<rect x="388.05" y="244.88" width="13.85" height="13.84" fill="#fff" stroke="#A8A8A8" stroke-width="0.9"/>
<rect x="401.90" y="244.88" width="13.85" height="13.84" fill="#fff" stroke="#A8A8A8" stroke-width="0.9"/>
<rect x="415.75" y="244.88" width="13.85" height="13.84" fill="#fff" stroke="#A8A8A8" stroke-width="0.9"/>
<rect x="429.60" y="244.88" width="13.85" height="13.84" fill="#fff" stroke="#A8A8A8" stroke-width="0.9"/>
<rect x="443.45" y="244.88" width="13.85" height="13.84" fill="#fff" stroke="#A8A8A8" stroke-width="0.9"/>
<rect x="457.30" y="244.88" width="13.85" height="13.84" fill="#fff" stroke="#A8A8A8" stroke-width="0.9"/>
<rect x="471.15" y="244.88" width="13.85" height="13.84" fill="#fff" stroke="#A8A8A8" stroke-width="0.9"/>
<rect x="485.00" y="244.88" width="13.85" height="13.84" fill="#fff" stroke="#A8A8A8" stroke-width="0.9"/>
<rect x="263.40" y="258.72" width="13.85" height="13.84" fill="#fff" stroke="#A8A8A8" stroke-width="0.9"/>
<rect x="277.25" y="258.72" width="13.85" height="13.84" fill="#fff" stroke="#A8A8A8" stroke-width="0.9"/>
<rect x="291.10" y="258.72" width="13.85" height="13.84" fill="#fff" stroke="#A8A8A8" stroke-width="0.9"/>
<rect x="304.95" y="258.72" width="13.85" height="13.84" fill="#fff" stroke="#A8A8A8" stroke-width="0.9"/>
<rect x="318.80" y="258.72" width="13.85" height="13.84" fill="#fff" stroke="#A8A8A8" stroke-width="0.9"/>
<rect x="332.65" y="258.72" width="13.85" height="13.84" fill="#fff" stroke="#A8A8A8" stroke-width="0.9"/>
<rect x="346.50" y="258.72" width="13.85" height="13.84" fill="#fff" stroke="#A8A8A8" stroke-width="0.9"/>
<rect x="360.35" y="258.72" width="13.85" height="13.84" fill="#fff" stroke="#A8A8A8" stroke-width="0.9"/>
<rect x="374.20" y="258.72" width="13.85" height="13.84" fill="#fff" stroke="#A8A8A8" stroke-width="0.9"/>
<rect x="388.05" y="258.72" width="13.85" height="13.84" fill="#fff" stroke="#A8A8A8" stroke-width="0.9"/>
<rect x="401.90" y="258.72" width="13.85" height="13.84" fill="#fff" stroke="#A8A8A8" stroke-width="0.9"/>
<rect x="415.75" y="258.72" width="13.85" height="13.84" fill="#fff" stroke="#A8A8A8" stroke-width="0.9"/>
<rect x="429.60" y="258.72" width="13.85" height="13.84" fill="#fff" stroke="#A8A8A8" stroke-width="0.9"/>
<rect x="443.45" y="258.72" width="13.85" height="13.84" fill="#fff" stroke="#A8A8A8" stroke-width="0.9"/>
<rect x="457.30" y="258.72" width="13.85" height="13.84" fill="#fff" stroke="#A8A8A8" stroke-width="0.9"/>
<rect x="471.15" y="258.72" width="13.85" height="13.84" fill="#fff" stroke="#A8A8A8" stroke-width="0.9"/>
<rect x="485.00" y="258.72" width="13.85" height="13.84" fill="#fff" stroke="#A8A8A8" stroke-width="0.9"/>
<rect x="498.85" y="258.72" width="13.85" height="13.84" fill="#fff" stroke="#A8A8A8" stroke-width="0.9"/>
<rect x="263.40" y="272.56" width="13.85" height="13.84" fill="#fff" stroke="#A8A8A8" stroke-width="0.9"/>
<rect x="277.25" y="272.56" width="13.85" height="13.84" fill="#fff" stroke="#A8A8A8" stroke-width="0.9"/>
<rect x="291.10" y="272.56" width="13.85" height="13.84" fill="#fff" stroke="#A8A8A8" stroke-width="0.9"/>
<rect x="304.95" y="272.56" width="13.85" height="13.84" fill="#fff" stroke="#A8A8A8" stroke-width="0.9"/>
<rect x="318.80" y="272.56" width="13.85" height="13.84" fill="#fff" stroke="#A8A8A8" stroke-width="0.9"/>
<rect x="332.65" y="272.56" width="13.85" height="13.84" fill="#fff" stroke="#A8A8A8" stroke-width="0.9"/>
<rect x="346.50" y="272.56" width="13.85" height="13.84" fill="#fff" stroke="#A8A8A8" stroke-width="0.9"/>
<rect x="360.35" y="272.56" width="13.85" height="13.84" fill="#fff" stroke="#A8A8A8" stroke-width="0.9"/>
<rect x="374.20" y="272.56" width="13.85" height="13.84" fill="#fff" stroke="#A8A8A8" stroke-width="0.9"/>
<rect x="388.05" y="272.56" width="13.85" height="13.84" fill="#fff" stroke="#A8A8A8" stroke-width="0.9"/>
<rect x="401.90" y="272.56" width="13.85" height="13.84" fill="#fff" stroke="#A8A8A8" stroke-width="0.9"/>
<rect x="415.75" y="272.56" width="13.85" height="13.84" fill="#fff" stroke="#A8A8A8" stroke-width="0.9"/>
<rect x="429.60" y="272.56" width="13.85" height="13.84" fill="#fff" stroke="#A8A8A8" stroke-width="0.9"/>
<rect x="443.45" y="272.56" width="13.85" height="13.84" fill="#fff" stroke="#A8A8A8" stroke-width="0.9"/>
<rect x="457.30" y="272.56" width="13.85" height="13.84" fill="#fff" stroke="#A8A8A8" stroke-width="0.9"/>
<rect x="471.15" y="272.56" width="13.85" height="13.84" fill="#fff" stroke="#A8A8A8" stroke-width="0.9"/>
<rect x="485.00" y="272.56" width="13.85" height="13.84" fill="#fff" stroke="#A8A8A8" stroke-width="0.9"/>
<rect x="498.85" y="272.56" width="13.85" height="13.84" fill="#fff" stroke="#A8A8A8" stroke-width="0.9"/>
<rect x="512.70" y="272.56" width="13.85" height="13.84" fill="#fff" stroke="#A8A8A8" stroke-width="0.9"/>
<rect x="263.40" y="286.40" width="13.85" height="13.84" fill="#fff" stroke="#A8A8A8" stroke-width="0.9"/>
<rect x="277.25" y="286.40" width="13.85" height="13.84" fill="#fff" stroke="#A8A8A8" stroke-width="0.9"/>
<rect x="291.10" y="286.40" width="13.85" height="13.84" fill="#fff" stroke="#A8A8A8" stroke-width="0.9"/>
<rect x="304.95" y="286.40" width="13.85" height="13.84" fill="#fff" stroke="#A8A8A8" stroke-width="0.9"/>
<rect x="318.80" y="286.40" width="13.85" height="13.84" fill="#fff" stroke="#A8A8A8" stroke-width="0.9"/>
<rect x="332.65" y="286.40" width="13.85" height="13.84" fill="#fff" stroke="#A8A8A8" stroke-width="0.9"/>
<rect x="346.50" y="286.40" width="13.85" height="13.84" fill="#fff" stroke="#A8A8A8" stroke-width="0.9"/>
<rect x="360.35" y="286.40" width="13.85" height="13.84" fill="#fff" stroke="#A8A8A8" stroke-width="0.9"/>
<rect x="374.20" y="286.40" width="13.85" height="13.84" fill="#fff" stroke="#A8A8A8" stroke-width="0.9"/>
<rect x="388.05" y="286.40" width="13.85" height="13.84" fill="#fff" stroke="#A8A8A8" stroke-width="0.9"/>
<rect x="401.90" y="286.40" width="13.85" height="13.84" fill="#fff" stroke="#A8A8A8" stroke-width="0.9"/>
<rect x="415.75" y="286.40" width="13.85" height="13.84" fill="#fff" stroke="#A8A8A8" stroke-width="0.9"/>
<rect x="429.60" y="286.40" width="13.85" height="13.84" fill="#fff" stroke="#A8A8A8" stroke-width="0.9"/>
<rect x="443.45" y="286.40" width="13.85" height="13.84" fill="#fff" stroke="#A8A8A8" stroke-width="0.9"/>
<rect x="457.30" y="286.40" width="13.85" height="13.84" fill="#fff" stroke="#A8A8A8" stroke-width="0.9"/>
<rect x="471.15" y="286.40" width="13.85" height="13.84" fill="#fff" stroke="#A8A8A8" stroke-width="0.9"/>
<rect x="485.00" y="286.40" width="13.85" height="13.84" fill="#fff" stroke="#A8A8A8" stroke-width="0.9"/>
<rect x="498.85" y="286.40" width="13.85" height="13.84" fill="#fff" stroke="#A8A8A8" stroke-width="0.9"/>
<rect x="512.70" y="286.40" width="13.85" height="13.84" fill="#fff" stroke="#A8A8A8" stroke-width="0.9"/>
<rect x="526.55" y="286.40" width="13.85" height="13.84" fill="#fff" stroke="#A8A8A8" stroke-width="0.9"/>
<rect x="267.62" y="27.66" width="5.40" height="5.40" fill="#fbcdb5" stroke="#555" stroke-width="0.6"/>
<rect x="268.12" y="42.00" width="4.40" height="4.40" fill="#fce0d0" stroke="#555" stroke-width="0.6"/>
<rect x="280.52" y="40.55" width="7.30" height="7.30" fill="#b8d8e9" stroke="#555" stroke-width="0.6"/>
<rect x="267.77" y="55.49" width="5.10" height="5.10" fill="#e5eef4" stroke="#555" stroke-width="0.6"/>
<rect x="281.52" y="55.39" width="5.30" height="5.30" fill="#e3edf3" stroke="#555" stroke-width="0.6"/>
<rect x="296.72" y="56.74" width="2.60" height="2.60" fill="#f9f0eb" stroke="#555" stroke-width="0.6"/>
<rect x="267.62" y="69.18" width="5.40" height="5.40" fill="#fbcdb5" stroke="#555" stroke-width="0.6"/>
<rect x="281.12" y="68.83" width="6.10" height="6.10" fill="#f7b89a" stroke="#555" stroke-width="0.6"/>
<rect x="296.72" y="70.58" width="2.60" height="2.60" fill="#f9f0eb" stroke="#555" stroke-width="0.6"/>
<rect x="310.57" y="70.58" width="2.60" height="2.60" fill="#f9f0eb" stroke="#555" stroke-width="0.6"/>
<rect x="267.57" y="82.97" width="5.50" height="5.50" fill="#facab1" stroke="#555" stroke-width="0.6"/>
<rect x="281.02" y="82.57" width="6.30" height="6.30" fill="#f6b191" stroke="#555" stroke-width="0.6"/>
<rect x="296.22" y="83.92" width="3.60" height="3.60" fill="#fae8de" stroke="#555" stroke-width="0.6"/>
<rect x="308.68" y="82.52" width="6.40" height="6.40" fill="#d3e6f0" stroke="#555" stroke-width="0.6"/>
<rect x="324.97" y="84.97" width="1.50" height="1.50" fill="#f7f5f3" stroke="#555" stroke-width="0.6"/>
<rect x="266.82" y="96.06" width="7.00" height="7.00" fill="#c2deec" stroke="#555" stroke-width="0.6"/>
<rect x="280.32" y="95.71" width="7.70" height="7.70" fill="#a9d1e4" stroke="#555" stroke-width="0.6"/>
<rect x="297.27" y="98.81" width="1.50" height="1.50" fill="#f7f5f3" stroke="#555" stroke-width="0.6"/>
<rect x="307.23" y="94.91" width="9.30" height="9.30" fill="#a41429" stroke="#555" stroke-width="0.6"/>
<rect x="324.12" y="97.96" width="3.20" height="3.20" fill="#f9ece4" stroke="#555" stroke-width="0.6"/>
<rect x="335.57" y="95.56" width="8.00" height="8.00" fill="#9ccae1" stroke="#555" stroke-width="0.6"/>
<rect x="268.52" y="111.60" width="3.60" height="3.60" fill="#fae8de" stroke="#555" stroke-width="0.6"/>
<rect x="282.57" y="111.80" width="3.20" height="3.20" fill="#f9ece4" stroke="#555" stroke-width="0.6"/>
<rect x="295.32" y="110.70" width="5.40" height="5.40" fill="#e2edf3" stroke="#555" stroke-width="0.6"/>
<rect x="307.93" y="109.45" width="7.90" height="7.90" fill="#d86551" stroke="#555" stroke-width="0.6"/>
<rect x="323.57" y="111.25" width="4.30" height="4.30" fill="#ecf2f5" stroke="#555" stroke-width="0.6"/>
<rect x="335.52" y="109.35" width="8.10" height="8.10" fill="#98c8e0" stroke="#555" stroke-width="0.6"/>
<rect x="349.57" y="109.55" width="7.70" height="7.70" fill="#dd705a" stroke="#555" stroke-width="0.6"/>
<rect x="268.07" y="124.99" width="4.50" height="4.50" fill="#ebf1f5" stroke="#555" stroke-width="0.6"/>
<rect x="281.47" y="124.54" width="5.40" height="5.40" fill="#e2edf3" stroke="#555" stroke-width="0.6"/>
<rect x="295.52" y="124.74" width="5.00" height="5.00" fill="#fcd7c2" stroke="#555" stroke-width="0.6"/>
<rect x="308.02" y="123.39" width="7.70" height="7.70" fill="#dd705a" stroke="#555" stroke-width="0.6"/>
<rect x="323.47" y="124.99" width="4.50" height="4.50" fill="#ebf1f5" stroke="#555" stroke-width="0.6"/>
<rect x="335.27" y="122.94" width="8.60" height="8.60" fill="#7cb7d6" stroke="#555" stroke-width="0.6"/>
<rect x="351.62" y="125.44" width="3.60" height="3.60" fill="#fae8de" stroke="#555" stroke-width="0.6"/>
<rect x="363.42" y="123.39" width="7.70" height="7.70" fill="#dd705a" stroke="#555" stroke-width="0.6"/>
<rect x="266.93" y="137.68" width="6.80" height="6.80" fill="#c9e1ee" stroke="#555" stroke-width="0.6"/>
<rect x="281.92" y="138.83" width="4.50" height="4.50" fill="#ebf1f5" stroke="#555" stroke-width="0.6"/>
<rect x="296.67" y="139.73" width="2.70" height="2.70" fill="#f9efea" stroke="#555" stroke-width="0.6"/>
<rect x="308.48" y="137.68" width="6.80" height="6.80" fill="#c9e1ee" stroke="#555" stroke-width="0.6"/>
<rect x="323.72" y="139.08" width="4.00" height="4.00" fill="#fbe5d8" stroke="#555" stroke-width="0.6"/>
<rect x="337.57" y="139.08" width="4.00" height="4.00" fill="#fbe5d8" stroke="#555" stroke-width="0.6"/>
<rect x="349.57" y="137.23" width="7.70" height="7.70" fill="#dd705a" stroke="#555" stroke-width="0.6"/>
<rect x="365.47" y="139.28" width="3.60" height="3.60" fill="#f1f4f6" stroke="#555" stroke-width="0.6"/>
<rect x="377.52" y="137.48" width="7.20" height="7.20" fill="#bcdaea" stroke="#555" stroke-width="0.6"/>
<rect x="267.18" y="151.77" width="6.30" height="6.30" fill="#d5e7f1" stroke="#555" stroke-width="0.6"/>
<rect x="281.47" y="152.22" width="5.40" height="5.40" fill="#e2edf3" stroke="#555" stroke-width="0.6"/>
<rect x="296.22" y="153.12" width="3.60" height="3.60" fill="#fae8de" stroke="#555" stroke-width="0.6"/>
<rect x="307.57" y="150.62" width="8.60" height="8.60" fill="#c33a3b" stroke="#555" stroke-width="0.6"/>
<rect x="323.72" y="152.92" width="4.00" height="4.00" fill="#eef3f5" stroke="#555" stroke-width="0.6"/>
<rect x="336.43" y="151.77" width="6.30" height="6.30" fill="#d5e7f1" stroke="#555" stroke-width="0.6"/>
<rect x="352.07" y="153.57" width="2.70" height="2.70" fill="#f9efea" stroke="#555" stroke-width="0.6"/>
<rect x="363.88" y="151.52" width="6.80" height="6.80" fill="#f19e7d" stroke="#555" stroke-width="0.6"/>
<rect x="377.07" y="150.87" width="8.10" height="8.10" fill="#d35a4a" stroke="#555" stroke-width="0.6"/>
<rect x="389.77" y="149.72" width="10.40" height="10.40" fill="#2064a9" stroke="#555" stroke-width="0.6"/>
<rect x="268.52" y="166.96" width="3.60" height="3.60" fill="#fae8de" stroke="#555" stroke-width="0.6"/>
<rect x="282.37" y="166.96" width="3.60" height="3.60" fill="#fae8de" stroke="#555" stroke-width="0.6"/>
<rect x="296.02" y="166.76" width="4.00" height="4.00" fill="#eef3f5" stroke="#555" stroke-width="0.6"/>
<rect x="308.02" y="164.91" width="7.70" height="7.70" fill="#dd705a" stroke="#555" stroke-width="0.6"/>
<rect x="323.92" y="166.96" width="3.60" height="3.60" fill="#f1f4f6" stroke="#555" stroke-width="0.6"/>
<rect x="336.88" y="166.06" width="5.40" height="5.40" fill="#fbcdb5" stroke="#555" stroke-width="0.6"/>
<rect x="350.72" y="166.06" width="5.40" height="5.40" fill="#e2edf3" stroke="#555" stroke-width="0.6"/>
<rect x="365.47" y="166.96" width="3.60" height="3.60" fill="#f1f4f6" stroke="#555" stroke-width="0.6"/>
<rect x="378.88" y="166.51" width="4.50" height="4.50" fill="#ebf1f5" stroke="#555" stroke-width="0.6"/>
<rect x="392.72" y="166.51" width="4.50" height="4.50" fill="#ebf1f5" stroke="#555" stroke-width="0.6"/>
<rect x="405.67" y="165.61" width="6.30" height="6.30" fill="#f6b191" stroke="#555" stroke-width="0.6"/>
<rect x="266.68" y="178.95" width="7.30" height="7.30" fill="#b8d8e9" stroke="#555" stroke-width="0.6"/>
<rect x="281.97" y="180.40" width="4.40" height="4.40" fill="#ebf1f5" stroke="#555" stroke-width="0.6"/>
<rect x="296.77" y="181.35" width="2.50" height="2.50" fill="#f8f0ec" stroke="#555" stroke-width="0.6"/>
<rect x="307.38" y="178.10" width="9.00" height="9.00" fill="#61a6cd" stroke="#555" stroke-width="0.6"/>
<rect x="324.47" y="181.35" width="2.50" height="2.50" fill="#f8f0ec" stroke="#555" stroke-width="0.6"/>
<rect x="335.68" y="178.70" width="7.80" height="7.80" fill="#a5cee3" stroke="#555" stroke-width="0.6"/>
<rect x="352.92" y="182.10" width="1.00" height="1.00" fill="#f7f6f6" stroke="#555" stroke-width="0.6"/>
<rect x="364.52" y="179.85" width="5.50" height="5.50" fill="#e0ecf3" stroke="#555" stroke-width="0.6"/>
<rect x="378.62" y="180.10" width="5.00" height="5.00" fill="#fcd7c2" stroke="#555" stroke-width="0.6"/>
<rect x="391.67" y="179.30" width="6.60" height="6.60" fill="#f4a784" stroke="#555" stroke-width="0.6"/>
<rect x="406.42" y="180.20" width="4.80" height="4.80" fill="#e8f0f4" stroke="#555" stroke-width="0.6"/>
<rect x="418.47" y="178.40" width="8.40" height="8.40" fill="#88bfdb" stroke="#555" stroke-width="0.6"/>
<rect x="266.32" y="192.44" width="8.00" height="8.00" fill="#9ccae1" stroke="#555" stroke-width="0.6"/>
<rect x="280.32" y="192.59" width="7.70" height="7.70" fill="#a9d1e4" stroke="#555" stroke-width="0.6"/>
<rect x="295.82" y="194.24" width="4.40" height="4.40" fill="#ebf1f5" stroke="#555" stroke-width="0.6"/>
<rect x="307.23" y="191.79" width="9.30" height="9.30" fill="#a41429" stroke="#555" stroke-width="0.6"/>
<rect x="323.52" y="194.24" width="4.40" height="4.40" fill="#ebf1f5" stroke="#555" stroke-width="0.6"/>
<rect x="337.38" y="194.24" width="4.40" height="4.40" fill="#ebf1f5" stroke="#555" stroke-width="0.6"/>
<rect x="348.32" y="191.34" width="10.20" height="10.20" fill="#67001f" stroke="#555" stroke-width="0.6"/>
<rect x="363.17" y="192.34" width="8.20" height="8.20" fill="#d05447" stroke="#555" stroke-width="0.6"/>
<rect x="379.27" y="194.59" width="3.70" height="3.70" fill="#fae8dd" stroke="#555" stroke-width="0.6"/>
<rect x="393.12" y="194.59" width="3.70" height="3.70" fill="#fae8dd" stroke="#555" stroke-width="0.6"/>
<rect x="405.37" y="192.99" width="6.90" height="6.90" fill="#ef9979" stroke="#555" stroke-width="0.6"/>
<rect x="421.17" y="194.94" width="3.00" height="3.00" fill="#f9ede6" stroke="#555" stroke-width="0.6"/>
<rect x="433.77" y="193.69" width="5.50" height="5.50" fill="#e0ecf3" stroke="#555" stroke-width="0.6"/>
<rect x="265.47" y="205.43" width="9.70" height="9.70" fill="#3a87bd" stroke="#555" stroke-width="0.6"/>
<rect x="280.42" y="206.53" width="7.50" height="7.50" fill="#b1d5e7" stroke="#555" stroke-width="0.6"/>
<rect x="294.67" y="206.93" width="6.70" height="6.70" fill="#cce2ef" stroke="#555" stroke-width="0.6"/>
<rect x="309.12" y="207.53" width="5.50" height="5.50" fill="#facab1" stroke="#555" stroke-width="0.6"/>
<rect x="323.22" y="207.78" width="5.00" height="5.00" fill="#e6eff4" stroke="#555" stroke-width="0.6"/>
<rect x="338.82" y="209.53" width="1.50" height="1.50" fill="#f7f5f3" stroke="#555" stroke-width="0.6"/>
<rect x="350.67" y="207.53" width="5.50" height="5.50" fill="#facab1" stroke="#555" stroke-width="0.6"/>
<rect x="365.77" y="208.78" width="3.00" height="3.00" fill="#f9ede6" stroke="#555" stroke-width="0.6"/>
<rect x="379.62" y="208.78" width="3.00" height="3.00" fill="#f9ede6" stroke="#555" stroke-width="0.6"/>
<rect x="392.77" y="208.08" width="4.40" height="4.40" fill="#ebf1f5" stroke="#555" stroke-width="0.6"/>
<rect x="405.92" y="207.38" width="5.80" height="5.80" fill="#f9c1a6" stroke="#555" stroke-width="0.6"/>
<rect x="419.77" y="207.38" width="5.80" height="5.80" fill="#dceaf2" stroke="#555" stroke-width="0.6"/>
<rect x="434.32" y="208.08" width="4.40" height="4.40" fill="#ebf1f5" stroke="#555" stroke-width="0.6"/>
<rect x="446.52" y="206.43" width="7.70" height="7.70" fill="#dd705a" stroke="#555" stroke-width="0.6"/>
<rect x="267.07" y="220.87" width="6.50" height="6.50" fill="#d2e5f0" stroke="#555" stroke-width="0.6"/>
<rect x="280.72" y="220.67" width="6.90" height="6.90" fill="#c6dfed" stroke="#555" stroke-width="0.6"/>
<rect x="296.52" y="222.62" width="3.00" height="3.00" fill="#f9ede6" stroke="#555" stroke-width="0.6"/>
<rect x="309.12" y="221.37" width="5.50" height="5.50" fill="#facab1" stroke="#555" stroke-width="0.6"/>
<rect x="323.52" y="221.92" width="4.40" height="4.40" fill="#ebf1f5" stroke="#555" stroke-width="0.6"/>
<rect x="336.82" y="221.37" width="5.50" height="5.50" fill="#e0ecf3" stroke="#555" stroke-width="0.6"/>
<rect x="349.97" y="220.67" width="6.90" height="6.90" fill="#ef9979" stroke="#555" stroke-width="0.6"/>
<rect x="365.42" y="222.27" width="3.70" height="3.70" fill="#fae8dd" stroke="#555" stroke-width="0.6"/>
<rect x="378.62" y="221.62" width="5.00" height="5.00" fill="#fcd7c2" stroke="#555" stroke-width="0.6"/>
<rect x="392.47" y="221.62" width="5.00" height="5.00" fill="#e6eff4" stroke="#555" stroke-width="0.6"/>
<rect x="405.82" y="221.12" width="6.00" height="6.00" fill="#f8bb9e" stroke="#555" stroke-width="0.6"/>
<rect x="419.02" y="220.47" width="7.30" height="7.30" fill="#e6856a" stroke="#555" stroke-width="0.6"/>
<rect x="434.52" y="222.12" width="4.00" height="4.00" fill="#fbe5d8" stroke="#555" stroke-width="0.6"/>
<rect x="448.02" y="221.77" width="4.70" height="4.70" fill="#fdddca" stroke="#555" stroke-width="0.6"/>
<rect x="460.57" y="220.47" width="7.30" height="7.30" fill="#e6856a" stroke="#555" stroke-width="0.6"/>
<rect x="267.22" y="234.86" width="6.20" height="6.20" fill="#f7b496" stroke="#555" stroke-width="0.6"/>
<rect x="281.27" y="235.06" width="5.80" height="5.80" fill="#f9c1a6" stroke="#555" stroke-width="0.6"/>
<rect x="296.52" y="236.46" width="3.00" height="3.00" fill="#f9ede6" stroke="#555" stroke-width="0.6"/>
<rect x="308.12" y="234.21" width="7.50" height="7.50" fill="#b1d5e7" stroke="#555" stroke-width="0.6"/>
<rect x="324.97" y="237.21" width="1.50" height="1.50" fill="#f7f5f3" stroke="#555" stroke-width="0.6"/>
<rect x="336.12" y="234.51" width="6.90" height="6.90" fill="#ef9979" stroke="#555" stroke-width="0.6"/>
<rect x="349.77" y="234.31" width="7.30" height="7.30" fill="#b8d8e9" stroke="#555" stroke-width="0.6"/>
<rect x="364.38" y="235.06" width="5.80" height="5.80" fill="#dceaf2" stroke="#555" stroke-width="0.6"/>
<rect x="377.82" y="234.66" width="6.60" height="6.60" fill="#cfe4ef" stroke="#555" stroke-width="0.6"/>
<rect x="394.22" y="237.21" width="1.50" height="1.50" fill="#f7f5f3" stroke="#555" stroke-width="0.6"/>
<rect x="406.47" y="235.61" width="4.70" height="4.70" fill="#e9f0f4" stroke="#555" stroke-width="0.6"/>
<rect x="421.02" y="236.31" width="3.30" height="3.30" fill="#faebe2" stroke="#555" stroke-width="0.6"/>
<rect x="434.32" y="235.76" width="4.40" height="4.40" fill="#ebf1f5" stroke="#555" stroke-width="0.6"/>
<rect x="445.82" y="233.41" width="9.10" height="9.10" fill="#5aa2cb" stroke="#555" stroke-width="0.6"/>
<rect x="460.02" y="233.76" width="8.40" height="8.40" fill="#88bfdb" stroke="#555" stroke-width="0.6"/>
<rect x="475.32" y="235.21" width="5.50" height="5.50" fill="#e0ecf3" stroke="#555" stroke-width="0.6"/>
<rect x="268.47" y="249.95" width="3.70" height="3.70" fill="#f0f4f6" stroke="#555" stroke-width="0.6"/>
<rect x="282.32" y="249.95" width="3.70" height="3.70" fill="#fae8dd" stroke="#555" stroke-width="0.6"/>
<rect x="295.12" y="248.90" width="5.80" height="5.80" fill="#dceaf2" stroke="#555" stroke-width="0.6"/>
<rect x="308.77" y="248.70" width="6.20" height="6.20" fill="#f7b496" stroke="#555" stroke-width="0.6"/>
<rect x="323.22" y="249.30" width="5.00" height="5.00" fill="#e6eff4" stroke="#555" stroke-width="0.6"/>
<rect x="338.32" y="250.55" width="2.50" height="2.50" fill="#f8f0ec" stroke="#555" stroke-width="0.6"/>
<rect x="351.22" y="249.60" width="4.40" height="4.40" fill="#fce0d0" stroke="#555" stroke-width="0.6"/>
<rect x="365.07" y="249.60" width="4.40" height="4.40" fill="#fce0d0" stroke="#555" stroke-width="0.6"/>
<rect x="379.27" y="249.95" width="3.70" height="3.70" fill="#fae8dd" stroke="#555" stroke-width="0.6"/>
<rect x="391.12" y="247.95" width="7.70" height="7.70" fill="#a9d1e4" stroke="#555" stroke-width="0.6"/>
<rect x="405.17" y="248.15" width="7.30" height="7.30" fill="#e6856a" stroke="#555" stroke-width="0.6"/>
<rect x="419.77" y="248.90" width="5.80" height="5.80" fill="#f9c1a6" stroke="#555" stroke-width="0.6"/>
<rect x="432.67" y="247.95" width="7.70" height="7.70" fill="#a9d1e4" stroke="#555" stroke-width="0.6"/>
<rect x="447.62" y="249.05" width="5.50" height="5.50" fill="#facab1" stroke="#555" stroke-width="0.6"/>
<rect x="460.92" y="248.50" width="6.60" height="6.60" fill="#f4a784" stroke="#555" stroke-width="0.6"/>
<rect x="475.72" y="249.45" width="4.70" height="4.70" fill="#fdddca" stroke="#555" stroke-width="0.6"/>
<rect x="489.72" y="249.60" width="4.40" height="4.40" fill="#ebf1f5" stroke="#555" stroke-width="0.6"/>
<rect x="268.47" y="263.79" width="3.70" height="3.70" fill="#f0f4f6" stroke="#555" stroke-width="0.6"/>
<rect x="283.42" y="264.89" width="1.50" height="1.50" fill="#f7f5f3" stroke="#555" stroke-width="0.6"/>
<rect x="295.52" y="263.14" width="5.00" height="5.00" fill="#fcd7c2" stroke="#555" stroke-width="0.6"/>
<rect x="307.68" y="261.44" width="8.40" height="8.40" fill="#88bfdb" stroke="#555" stroke-width="0.6"/>
<rect x="323.72" y="263.64" width="4.00" height="4.00" fill="#eef3f5" stroke="#555" stroke-width="0.6"/>
<rect x="337.38" y="263.44" width="4.40" height="4.40" fill="#fce0d0" stroke="#555" stroke-width="0.6"/>
<rect x="349.42" y="261.64" width="8.00" height="8.00" fill="#9ccae1" stroke="#555" stroke-width="0.6"/>
<rect x="363.62" y="261.99" width="7.30" height="7.30" fill="#b8d8e9" stroke="#555" stroke-width="0.6"/>
<rect x="378.38" y="262.89" width="5.50" height="5.50" fill="#e0ecf3" stroke="#555" stroke-width="0.6"/>
<rect x="391.12" y="261.79" width="7.70" height="7.70" fill="#dd705a" stroke="#555" stroke-width="0.6"/>
<rect x="404.97" y="261.79" width="7.70" height="7.70" fill="#a9d1e4" stroke="#555" stroke-width="0.6"/>
<rect x="421.42" y="264.39" width="2.50" height="2.50" fill="#f8f0ec" stroke="#555" stroke-width="0.6"/>
<rect x="432.32" y="261.44" width="8.40" height="8.40" fill="#ca4741" stroke="#555" stroke-width="0.6"/>
<rect x="446.18" y="261.44" width="8.40" height="8.40" fill="#88bfdb" stroke="#555" stroke-width="0.6"/>
<rect x="460.57" y="261.99" width="7.30" height="7.30" fill="#b8d8e9" stroke="#555" stroke-width="0.6"/>
<rect x="477.07" y="264.64" width="2.00" height="2.00" fill="#f8f3f0" stroke="#555" stroke-width="0.6"/>
<rect x="488.27" y="261.99" width="7.30" height="7.30" fill="#e6856a" stroke="#555" stroke-width="0.6"/>
<rect x="500.27" y="260.14" width="11.00" height="11.00" fill="#0b3c71" stroke="#555" stroke-width="0.6"/>
<rect x="268.32" y="277.48" width="4.00" height="4.00" fill="#fbe5d8" stroke="#555" stroke-width="0.6"/>
<rect x="281.27" y="276.58" width="5.80" height="5.80" fill="#f9c1a6" stroke="#555" stroke-width="0.6"/>
<rect x="295.27" y="276.73" width="5.50" height="5.50" fill="#e0ecf3" stroke="#555" stroke-width="0.6"/>
<rect x="308.77" y="276.38" width="6.20" height="6.20" fill="#d6e8f1" stroke="#555" stroke-width="0.6"/>
<rect x="324.47" y="278.23" width="2.50" height="2.50" fill="#f8f0ec" stroke="#555" stroke-width="0.6"/>
<rect x="337.38" y="277.28" width="4.40" height="4.40" fill="#fce0d0" stroke="#555" stroke-width="0.6"/>
<rect x="350.12" y="276.18" width="6.60" height="6.60" fill="#cfe4ef" stroke="#555" stroke-width="0.6"/>
<rect x="364.38" y="276.58" width="5.80" height="5.80" fill="#dceaf2" stroke="#555" stroke-width="0.6"/>
<rect x="378.27" y="276.63" width="5.70" height="5.70" fill="#deebf2" stroke="#555" stroke-width="0.6"/>
<rect x="392.77" y="277.28" width="4.40" height="4.40" fill="#ebf1f5" stroke="#555" stroke-width="0.6"/>
<rect x="407.17" y="277.83" width="3.30" height="3.30" fill="#faebe2" stroke="#555" stroke-width="0.6"/>
<rect x="420.17" y="276.98" width="5.00" height="5.00" fill="#fcd7c2" stroke="#555" stroke-width="0.6"/>
<rect x="434.02" y="276.98" width="5.00" height="5.00" fill="#fcd7c2" stroke="#555" stroke-width="0.6"/>
<rect x="448.52" y="277.63" width="3.70" height="3.70" fill="#f0f4f6" stroke="#555" stroke-width="0.6"/>
<rect x="462.37" y="277.63" width="3.70" height="3.70" fill="#f0f4f6" stroke="#555" stroke-width="0.6"/>
<rect x="476.22" y="277.63" width="3.70" height="3.70" fill="#fae8dd" stroke="#555" stroke-width="0.6"/>
<rect x="490.27" y="277.83" width="3.30" height="3.30" fill="#faebe2" stroke="#555" stroke-width="0.6"/>
<rect x="503.92" y="277.63" width="3.70" height="3.70" fill="#f0f4f6" stroke="#555" stroke-width="0.6"/>
<rect x="515.77" y="275.63" width="7.70" height="7.70" fill="#dd705a" stroke="#555" stroke-width="0.6"/>
<rect x="265.57" y="288.57" width="9.50" height="9.50" fill="#408fc1" stroke="#555" stroke-width="0.6"/>
<rect x="280.32" y="289.47" width="7.70" height="7.70" fill="#a9d1e4" stroke="#555" stroke-width="0.6"/>
<rect x="296.77" y="292.07" width="2.50" height="2.50" fill="#f8f0ec" stroke="#555" stroke-width="0.6"/>
<rect x="308.43" y="289.87" width="6.90" height="6.90" fill="#c6dfed" stroke="#555" stroke-width="0.6"/>
<rect x="323.72" y="291.32" width="4.00" height="4.00" fill="#eef3f5" stroke="#555" stroke-width="0.6"/>
<rect x="337.38" y="291.12" width="4.40" height="4.40" fill="#ebf1f5" stroke="#555" stroke-width="0.6"/>
<rect x="351.22" y="291.12" width="4.40" height="4.40" fill="#fce0d0" stroke="#555" stroke-width="0.6"/>
<rect x="365.07" y="291.12" width="4.40" height="4.40" fill="#ebf1f5" stroke="#555" stroke-width="0.6"/>
<rect x="378.38" y="290.57" width="5.50" height="5.50" fill="#e0ecf3" stroke="#555" stroke-width="0.6"/>
<rect x="391.12" y="289.47" width="7.70" height="7.70" fill="#dd705a" stroke="#555" stroke-width="0.6"/>
<rect x="405.92" y="290.42" width="5.80" height="5.80" fill="#dceaf2" stroke="#555" stroke-width="0.6"/>
<rect x="420.67" y="291.32" width="4.00" height="4.00" fill="#fbe5d8" stroke="#555" stroke-width="0.6"/>
<rect x="433.07" y="289.87" width="6.90" height="6.90" fill="#ef9979" stroke="#555" stroke-width="0.6"/>
<rect x="448.18" y="291.12" width="4.40" height="4.40" fill="#ebf1f5" stroke="#555" stroke-width="0.6"/>
<rect x="460.92" y="290.02" width="6.60" height="6.60" fill="#f4a784" stroke="#555" stroke-width="0.6"/>
<rect x="477.32" y="292.57" width="1.50" height="1.50" fill="#f7f5f3" stroke="#555" stroke-width="0.6"/>
<rect x="489.02" y="290.42" width="5.80" height="5.80" fill="#f9c1a6" stroke="#555" stroke-width="0.6"/>
<rect x="503.77" y="291.32" width="4.00" height="4.00" fill="#eef3f5" stroke="#555" stroke-width="0.6"/>
<rect x="515.77" y="289.47" width="7.70" height="7.70" fill="#dd705a" stroke="#555" stroke-width="0.6"/>
<rect x="532.22" y="292.07" width="2.50" height="2.50" fill="#f8f0ec" stroke="#555" stroke-width="0.6"/>
<circle cx="270.32" cy="16.52" r="2.7" fill="#E8112D" stroke="#3A3A9A" stroke-width="0.9"/>
<circle cx="284.17" cy="30.36" r="2.7" fill="#E8112D" stroke="#3A3A9A" stroke-width="0.9"/>
<circle cx="298.02" cy="44.20" r="2.7" fill="#E8112D" stroke="#3A3A9A" stroke-width="0.9"/>
<circle cx="311.88" cy="58.04" r="2.7" fill="#E8112D" stroke="#3A3A9A" stroke-width="0.9"/>
<circle cx="325.72" cy="71.88" r="2.7" fill="#E8112D" stroke="#3A3A9A" stroke-width="0.9"/>
<circle cx="339.57" cy="85.72" r="2.7" fill="#E8112D" stroke="#3A3A9A" stroke-width="0.9"/>
<circle cx="353.42" cy="99.56" r="2.7" fill="#E8112D" stroke="#3A3A9A" stroke-width="0.9"/>
<circle cx="367.27" cy="113.40" r="2.7" fill="#E8112D" stroke="#3A3A9A" stroke-width="0.9"/>
<circle cx="381.12" cy="127.24" r="2.7" fill="#E8112D" stroke="#3A3A9A" stroke-width="0.9"/>
<circle cx="394.97" cy="141.08" r="2.7" fill="#E8112D" stroke="#3A3A9A" stroke-width="0.9"/>
<circle cx="408.82" cy="154.92" r="2.7" fill="#E8112D" stroke="#3A3A9A" stroke-width="0.9"/>
<circle cx="422.67" cy="168.76" r="2.7" fill="#E8112D" stroke="#3A3A9A" stroke-width="0.9"/>
<circle cx="436.52" cy="182.60" r="2.7" fill="#E8112D" stroke="#3A3A9A" stroke-width="0.9"/>
<circle cx="450.38" cy="196.44" r="2.7" fill="#E8112D" stroke="#3A3A9A" stroke-width="0.9"/>
<circle cx="464.22" cy="210.28" r="2.7" fill="#E8112D" stroke="#3A3A9A" stroke-width="0.9"/>
<circle cx="478.07" cy="224.12" r="2.7" fill="#E8112D" stroke="#3A3A9A" stroke-width="0.9"/>
<circle cx="491.92" cy="237.96" r="2.7" fill="#E8112D" stroke="#3A3A9A" stroke-width="0.9"/>
<circle cx="505.77" cy="251.80" r="2.7" fill="#E8112D" stroke="#3A3A9A" stroke-width="0.9"/>
<circle cx="519.62" cy="265.64" r="2.7" fill="#E8112D" stroke="#3A3A9A" stroke-width="0.9"/>
<circle cx="533.47" cy="279.48" r="2.7" fill="#E8112D" stroke="#3A3A9A" stroke-width="0.9"/>
<circle cx="547.33" cy="293.32" r="2.7" fill="#E8112D" stroke="#3A3A9A" stroke-width="0.9"/>
<circle cx="481.20" cy="39.10" r="2.7" fill="#E8112D" stroke="#3A3A9A" stroke-width="0.9"/>
<text x="488.1" y="43.7" font-size="12.4" fill="#111">AHCY</text>
<circle cx="495.70" cy="54.90" r="2.7" fill="#E8112D" stroke="#3A3A9A" stroke-width="0.9"/>
<text x="502.6" y="59.5" font-size="12.4" fill="#111">CIRBP</text>
<circle cx="510.20" cy="70.70" r="2.7" fill="#E8112D" stroke="#3A3A9A" stroke-width="0.9"/>
<text x="517.1" y="75.3" font-size="12.4" fill="#111">CTSB</text>
<circle cx="524.70" cy="86.50" r="2.7" fill="#E8112D" stroke="#3A3A9A" stroke-width="0.9"/>
<text x="531.6" y="91.1" font-size="12.4" fill="#111">ECH1</text>
<circle cx="539.20" cy="102.30" r="2.7" fill="#E8112D" stroke="#3A3A9A" stroke-width="0.9"/>
<text x="546.1" y="106.9" font-size="12.4" fill="#111">ELAVL1</text>
<circle cx="553.70" cy="118.10" r="2.7" fill="#E8112D" stroke="#3A3A9A" stroke-width="0.9"/>
<text x="560.6" y="122.7" font-size="12.4" fill="#111">FTH1</text>
<circle cx="568.20" cy="133.90" r="2.7" fill="#E8112D" stroke="#3A3A9A" stroke-width="0.9"/>
<text x="575.1" y="138.5" font-size="12.4" fill="#111">HIF1A</text>
<circle cx="582.70" cy="149.70" r="2.7" fill="#E8112D" stroke="#3A3A9A" stroke-width="0.9"/>
<text x="589.6" y="154.3" font-size="12.4" fill="#111">NFE2L2</text>
<circle cx="597.20" cy="165.50" r="2.7" fill="#E8112D" stroke="#3A3A9A" stroke-width="0.9"/>
<text x="604.1" y="170.1" font-size="12.4" fill="#111">SCP2</text>
<circle cx="611.70" cy="181.30" r="2.7" fill="#E8112D" stroke="#3A3A9A" stroke-width="0.9"/>
<text x="618.6" y="185.9" font-size="12.4" fill="#111">TIMP1</text>
<circle cx="626.20" cy="197.10" r="2.7" fill="#E8112D" stroke="#3A3A9A" stroke-width="0.9"/>
<text x="633.1" y="201.7" font-size="12.4" fill="#111">USP7</text>
<circle cx="640.70" cy="212.90" r="2.7" fill="#E8112D" stroke="#3A3A9A" stroke-width="0.9"/>
<text x="647.6" y="217.5" font-size="12.4" fill="#111">ZFP36</text>
<text x="257.7" y="20.7" font-size="12.05" text-anchor="end" fill="#111">B cells naive</text>
<text x="257.7" y="34.6" font-size="12.05" text-anchor="end" fill="#111">B cells memory</text>
<text x="257.7" y="48.4" font-size="12.05" text-anchor="end" fill="#111">Plasma cells</text>
<text x="257.7" y="62.2" font-size="12.05" text-anchor="end" fill="#111">T cells CD8</text>
<text x="257.7" y="76.1" font-size="12.05" text-anchor="end" fill="#111">T cells CD4 naive</text>
<text x="257.7" y="89.9" font-size="12.05" text-anchor="end" fill="#111">T cells CD4 memory resting</text>
<text x="257.7" y="103.8" font-size="12.05" text-anchor="end" fill="#111">T cells CD4 memory activated</text>
<text x="257.7" y="117.6" font-size="12.05" text-anchor="end" fill="#111">T cells follicular helper</text>
<text x="257.7" y="131.4" font-size="12.05" text-anchor="end" fill="#111">T cells regulatory (Tregs)</text>
<text x="257.7" y="145.3" font-size="12.05" text-anchor="end" fill="#111">NK cells resting</text>
<text x="257.7" y="159.1" font-size="12.05" text-anchor="end" fill="#111">NK cells activated</text>
<text x="257.7" y="173.0" font-size="12.05" text-anchor="end" fill="#111">Monocytes</text>
<text x="257.7" y="186.8" font-size="12.05" text-anchor="end" fill="#111">Macrophages M0</text>
<text x="257.7" y="200.6" font-size="12.05" text-anchor="end" fill="#111">Macrophages M1</text>
<text x="257.7" y="214.5" font-size="12.05" text-anchor="end" fill="#111">Macrophages M2</text>
<text x="257.7" y="228.3" font-size="12.05" text-anchor="end" fill="#111">Dendritic cells resting</text>
<text x="257.7" y="242.2" font-size="12.05" text-anchor="end" fill="#111">Dendritic cells activated</text>
<text x="257.7" y="256.0" font-size="12.05" text-anchor="end" fill="#111">Mast cells resting</text>
<text x="257.7" y="269.8" font-size="12.05" text-anchor="end" fill="#111">Mast cells activated</text>
<text x="257.7" y="283.7" font-size="12.05" text-anchor="end" fill="#111">Eosinophils</text>
<text x="257.7" y="297.5" font-size="12.05" text-anchor="end" fill="#111">Neutrophils</text>
<text transform="translate(274.3,307.7) rotate(-90)" font-size="11.9" text-anchor="end" fill="#111">B cells naive</text>
<text transform="translate(288.2,307.7) rotate(-90)" font-size="11.9" text-anchor="end" fill="#111">B cells memory</text>
<text transform="translate(302.0,307.7) rotate(-90)" font-size="11.9" text-anchor="end" fill="#111">Plasma cells</text>
<text transform="translate(315.9,307.7) rotate(-90)" font-size="11.9" text-anchor="end" fill="#111">T cells CD8</text>
<text transform="translate(329.7,307.7) rotate(-90)" font-size="11.9" text-anchor="end" fill="#111">T cells CD4 naive</text>
<text transform="translate(343.6,307.7) rotate(-90)" font-size="11.9" text-anchor="end" fill="#111">T cells CD4 memory resting</text>
<text transform="translate(357.4,307.7) rotate(-90)" font-size="11.9" text-anchor="end" fill="#111">T cells CD4 memory activated</text>
<text transform="translate(371.3,307.7) rotate(-90)" font-size="11.9" text-anchor="end" fill="#111">T cells follicular helper</text>
<text transform="translate(385.1,307.7) rotate(-90)" font-size="11.9" text-anchor="end" fill="#111">T cells regulatory (Tregs)</text>
<text transform="translate(399.0,307.7) rotate(-90)" font-size="11.9" text-anchor="end" fill="#111">NK cells resting</text>
<text transform="translate(412.8,307.7) rotate(-90)" font-size="11.9" text-anchor="end" fill="#111">NK cells activated</text>
<text transform="translate(426.7,307.7) rotate(-90)" font-size="11.9" text-anchor="end" fill="#111">Monocytes</text>
<text transform="translate(440.5,307.7) rotate(-90)" font-size="11.9" text-anchor="end" fill="#111">Macrophages M0</text>
<text transform="translate(454.4,307.7) rotate(-90)" font-size="11.9" text-anchor="end" fill="#111">Macrophages M1</text>
<text transform="translate(468.2,307.7) rotate(-90)" font-size="11.9" text-anchor="end" fill="#111">Macrophages M2</text>
<text transform="translate(482.1,307.7) rotate(-90)" font-size="11.9" text-anchor="end" fill="#111">Dendritic cells resting</text>
<text transform="translate(495.9,307.7) rotate(-90)" font-size="11.9" text-anchor="end" fill="#111">Dendritic cells activated</text>
<text transform="translate(509.8,307.7) rotate(-90)" font-size="11.9" text-anchor="end" fill="#111">Mast cells resting</text>
<text transform="translate(523.6,307.7) rotate(-90)" font-size="11.9" text-anchor="end" fill="#111">Mast cells activated</text>
<text transform="translate(537.5,307.7) rotate(-90)" font-size="11.9" text-anchor="end" fill="#111">Eosinophils</text>
<text transform="translate(551.3,307.7) rotate(-90)" font-size="11.9" text-anchor="end" fill="#111">Neutrophils</text>
<text x="1.5" y="504.8" font-family='"Liberation Serif", serif' font-size="42.6" fill="#111" transform="translate(1.5 0) scale(0.86 1) translate(-1.5 0)">B</text>
<rect x="178.0" y="507.0" width="336.4" height="449.2" fill="#F3F3F3"/>
<line x1="190.2" y1="507.0" x2="190.2" y2="956.2" stroke="#fff" stroke-width="1.1"/>
<line x1="268.3" y1="507.0" x2="268.3" y2="956.2" stroke="#fff" stroke-width="1.1"/>
<line x1="346.4" y1="507.0" x2="346.4" y2="956.2" stroke="#fff" stroke-width="1.1"/>
<line x1="424.5" y1="507.0" x2="424.5" y2="956.2" stroke="#fff" stroke-width="1.1"/>
<line x1="502.6" y1="507.0" x2="502.6" y2="956.2" stroke="#fff" stroke-width="1.1"/>
<line x1="178.0" y1="527.4" x2="514.4" y2="527.4" stroke="#fff" stroke-width="1.1"/>
<line x1="178.0" y1="547.8" x2="514.4" y2="547.8" stroke="#fff" stroke-width="1.1"/>
<line x1="178.0" y1="568.3" x2="514.4" y2="568.3" stroke="#fff" stroke-width="1.1"/>
<line x1="178.0" y1="588.7" x2="514.4" y2="588.7" stroke="#fff" stroke-width="1.1"/>
<line x1="178.0" y1="609.1" x2="514.4" y2="609.1" stroke="#fff" stroke-width="1.1"/>
<line x1="178.0" y1="629.5" x2="514.4" y2="629.5" stroke="#fff" stroke-width="1.1"/>
<line x1="178.0" y1="649.9" x2="514.4" y2="649.9" stroke="#fff" stroke-width="1.1"/>
<line x1="178.0" y1="670.4" x2="514.4" y2="670.4" stroke="#fff" stroke-width="1.1"/>
<line x1="178.0" y1="690.8" x2="514.4" y2="690.8" stroke="#fff" stroke-width="1.1"/>
<line x1="178.0" y1="711.2" x2="514.4" y2="711.2" stroke="#fff" stroke-width="1.1"/>
<line x1="178.0" y1="731.6" x2="514.4" y2="731.6" stroke="#fff" stroke-width="1.1"/>
<line x1="178.0" y1="752.0" x2="514.4" y2="752.0" stroke="#fff" stroke-width="1.1"/>
<line x1="178.0" y1="772.5" x2="514.4" y2="772.5" stroke="#fff" stroke-width="1.1"/>
<line x1="178.0" y1="792.9" x2="514.4" y2="792.9" stroke="#fff" stroke-width="1.1"/>
<line x1="178.0" y1="813.3" x2="514.4" y2="813.3" stroke="#fff" stroke-width="1.1"/>
<line x1="178.0" y1="833.7" x2="514.4" y2="833.7" stroke="#fff" stroke-width="1.1"/>
<line x1="178.0" y1="854.1" x2="514.4" y2="854.1" stroke="#fff" stroke-width="1.1"/>
<line x1="178.0" y1="874.6" x2="514.4" y2="874.6" stroke="#fff" stroke-width="1.1"/>
<line x1="178.0" y1="895.0" x2="514.4" y2="895.0" stroke="#fff" stroke-width="1.1"/>
<line x1="178.0" y1="915.4" x2="514.4" y2="915.4" stroke="#fff" stroke-width="1.1"/>
<line x1="178.0" y1="935.8" x2="514.4" y2="935.8" stroke="#fff" stroke-width="1.1"/>
<text x="178.4" y="520.9" font-size="12.4" text-anchor="end" fill="#1a1a1a">T cells CD4 memory activated</text>
<line x1="346.4" y1="517.2" x2="474.1" y2="517.2" stroke="#000" stroke-width="3" stroke-linecap="round"/>
<circle cx="474.1" cy="517.2" r="8.65" fill="#176A35"/>
<text x="514.9" y="521.8" font-size="12.5" fill="#D02A2A">&lt;0.001</text>
<text x="178.4" y="541.3" font-size="12.4" text-anchor="end" fill="#1a1a1a">Macrophages M1</text>
<line x1="346.4" y1="537.6" x2="471.0" y2="537.6" stroke="#000" stroke-width="3" stroke-linecap="round"/>
<circle cx="471.0" cy="537.6" r="8.65" fill="#176A35"/>
<text x="514.9" y="542.2" font-size="12.5" fill="#D02A2A">&lt;0.001</text>
<text x="178.4" y="561.8" font-size="12.4" text-anchor="end" fill="#1a1a1a">Macrophages M0</text>
<line x1="346.4" y1="558.0" x2="460.8" y2="558.0" stroke="#000" stroke-width="3" stroke-linecap="round"/>
<circle cx="460.8" cy="558.0" r="7.35" fill="#176A35"/>
<text x="514.9" y="562.6" font-size="12.5" fill="#D02A2A">0.001</text>
<text x="178.4" y="582.2" font-size="12.4" text-anchor="end" fill="#1a1a1a">Macrophages M2</text>
<line x1="346.4" y1="578.5" x2="452.2" y2="578.5" stroke="#000" stroke-width="3" stroke-linecap="round"/>
<circle cx="452.2" cy="578.5" r="7.35" fill="#176A35"/>
<text x="514.9" y="583.1" font-size="12.5" fill="#D02A2A">0.003</text>
<text x="178.4" y="602.6" font-size="12.4" text-anchor="end" fill="#1a1a1a">Dendritic cells resting</text>
<line x1="346.4" y1="598.9" x2="448.7" y2="598.9" stroke="#000" stroke-width="3" stroke-linecap="round"/>
<circle cx="448.7" cy="598.9" r="7.35" fill="#176A35"/>
<text x="514.9" y="603.5" font-size="12.5" fill="#D02A2A">0.003</text>
<text x="178.4" y="623.0" font-size="12.4" text-anchor="end" fill="#1a1a1a">NK cells resting</text>
<line x1="346.4" y1="619.3" x2="420.6" y2="619.3" stroke="#000" stroke-width="3" stroke-linecap="round"/>
<circle cx="420.6" cy="619.3" r="6.0" fill="#176A35"/>
<text x="514.9" y="623.9" font-size="12.5" fill="#D02A2A">0.036</text>
<text x="178.4" y="643.4" font-size="12.4" text-anchor="end" fill="#1a1a1a">T cells follicular helper</text>
<line x1="346.4" y1="639.7" x2="404.6" y2="639.7" stroke="#000" stroke-width="3" stroke-linecap="round"/>
<circle cx="404.6" cy="639.7" r="6.0" fill="#176A35"/>
<text x="514.9" y="644.3" font-size="12.5" fill="#1a1a1a">0.100</text>
<text x="178.4" y="663.9" font-size="12.4" text-anchor="end" fill="#1a1a1a">Neutrophils</text>
<line x1="346.4" y1="660.1" x2="399.9" y2="660.1" stroke="#000" stroke-width="3" stroke-linecap="round"/>
<circle cx="399.9" cy="660.1" r="6.0" fill="#176A35"/>
<text x="514.9" y="664.8" font-size="12.5" fill="#1a1a1a">0.129</text>
<text x="178.4" y="684.3" font-size="12.4" text-anchor="end" fill="#1a1a1a">T cells regulatory (Tregs)</text>
<line x1="346.4" y1="680.6" x2="378.4" y2="680.6" stroke="#000" stroke-width="3" stroke-linecap="round"/>
<circle cx="378.4" cy="680.6" r="4.6" fill="#52B33D"/>
<text x="514.9" y="685.2" font-size="12.5" fill="#1a1a1a">0.362</text>
<text x="178.4" y="704.7" font-size="12.4" text-anchor="end" fill="#1a1a1a">T cells CD8</text>
<line x1="346.4" y1="701.0" x2="369.8" y2="701.0" stroke="#000" stroke-width="3" stroke-linecap="round"/>
<circle cx="369.8" cy="701.0" r="4.6" fill="#F39C1E"/>
<text x="514.9" y="705.6" font-size="12.5" fill="#1a1a1a">0.506</text>
<text x="178.4" y="725.1" font-size="12.4" text-anchor="end" fill="#1a1a1a">Mast cells activated</text>
<line x1="346.4" y1="721.4" x2="365.9" y2="721.4" stroke="#000" stroke-width="3" stroke-linecap="round"/>
<circle cx="365.9" cy="721.4" r="4.6" fill="#F39C1E"/>
<text x="514.9" y="726.0" font-size="12.5" fill="#1a1a1a">0.575</text>
<text x="178.4" y="745.5" font-size="12.4" text-anchor="end" fill="#1a1a1a">NK cells activated</text>
<line x1="346.4" y1="741.8" x2="356.6" y2="741.8" stroke="#000" stroke-width="3" stroke-linecap="round"/>
<circle cx="356.6" cy="741.8" r="4.6" fill="#F4B7C5"/>
<text x="514.9" y="746.4" font-size="12.5" fill="#1a1a1a">0.770</text>
<text x="178.4" y="766.0" font-size="12.4" text-anchor="end" fill="#1a1a1a">Eosinophils</text>
<line x1="346.4" y1="762.2" x2="348.0" y2="762.2" stroke="#000" stroke-width="3" stroke-linecap="round"/>
<circle cx="348.0" cy="762.2" r="4.6" fill="#FDD212"/>
<text x="514.9" y="766.9" font-size="12.5" fill="#1a1a1a">0.956</text>
<text x="178.4" y="786.4" font-size="12.4" text-anchor="end" fill="#1a1a1a">Mast cells resting</text>
<line x1="346.4" y1="782.7" x2="347.2" y2="782.7" stroke="#000" stroke-width="3" stroke-linecap="round"/>
<circle cx="347.2" cy="782.7" r="4.6" fill="#FDD212"/>
<text x="514.9" y="787.3" font-size="12.5" fill="#1a1a1a">0.981</text>
<text x="178.4" y="806.8" font-size="12.4" text-anchor="end" fill="#1a1a1a">T cells gamma delta</text>
<line x1="346.4" y1="803.1" x2="307.7" y2="803.1" stroke="#000" stroke-width="3" stroke-linecap="round"/>
<circle cx="307.7" cy="803.1" r="4.6" fill="#52B33D"/>
<text x="514.9" y="807.7" font-size="12.5" fill="#1a1a1a">0.278</text>
<text x="178.4" y="827.2" font-size="12.4" text-anchor="end" fill="#1a1a1a">Monocytes</text>
<line x1="346.4" y1="823.5" x2="307.5" y2="823.5" stroke="#000" stroke-width="3" stroke-linecap="round"/>
<circle cx="307.5" cy="823.5" r="4.6" fill="#52B33D"/>
<text x="514.9" y="828.1" font-size="12.5" fill="#1a1a1a">0.275</text>
<text x="178.4" y="847.6" font-size="12.4" text-anchor="end" fill="#1a1a1a">T cells CD4 naive</text>
<line x1="346.4" y1="843.9" x2="305.8" y2="843.9" stroke="#000" stroke-width="3" stroke-linecap="round"/>
<circle cx="305.8" cy="843.9" r="6.0" fill="#52B33D"/>
<text x="514.9" y="848.5" font-size="12.5" fill="#1a1a1a">0.254</text>
<text x="178.4" y="868.1" font-size="12.4" text-anchor="end" fill="#1a1a1a">Plasma cells</text>
<line x1="346.4" y1="864.4" x2="284.3" y2="864.4" stroke="#000" stroke-width="3" stroke-linecap="round"/>
<circle cx="284.3" cy="864.4" r="6.0" fill="#176A35"/>
<text x="514.9" y="869.0" font-size="12.5" fill="#1a1a1a">0.081</text>
<text x="178.4" y="888.5" font-size="12.4" text-anchor="end" fill="#1a1a1a">B cells memory</text>
<line x1="346.4" y1="884.8" x2="262.1" y2="884.8" stroke="#000" stroke-width="3" stroke-linecap="round"/>
<circle cx="262.1" cy="884.8" r="7.35" fill="#176A35"/>
<text x="514.9" y="889.4" font-size="12.5" fill="#D02A2A">0.018</text>
<text x="178.4" y="908.9" font-size="12.4" text-anchor="end" fill="#1a1a1a">Dendritic cells activated</text>
<line x1="346.4" y1="905.2" x2="227.7" y2="905.2" stroke="#000" stroke-width="3" stroke-linecap="round"/>
<circle cx="227.7" cy="905.2" r="8.65" fill="#176A35"/>
<text x="514.9" y="909.8" font-size="12.5" fill="#D02A2A">&lt;0.001</text>
<text x="178.4" y="929.3" font-size="12.4" text-anchor="end" fill="#1a1a1a">T cells CD4 memory resting</text>
<line x1="346.4" y1="925.6" x2="221.4" y2="925.6" stroke="#000" stroke-width="3" stroke-linecap="round"/>
<circle cx="221.4" cy="925.6" r="8.65" fill="#176A35"/>
<text x="514.9" y="930.2" font-size="12.5" fill="#D02A2A">&lt;0.001</text>
<text x="178.4" y="949.7" font-size="12.4" text-anchor="end" fill="#1a1a1a">B cells naive</text>
<line x1="346.4" y1="946.0" x2="197.2" y2="946.0" stroke="#000" stroke-width="3" stroke-linecap="round"/>
<circle cx="197.2" cy="946.0" r="8.65" fill="#176A35"/>
<text x="514.9" y="950.6" font-size="12.5" fill="#D02A2A">&lt;0.001</text>
<text x="190.2" y="974.1" font-size="12.6" text-anchor="middle" fill="#333">−0.4</text>
<text x="268.3" y="974.1" font-size="12.6" text-anchor="middle" fill="#333">−0.2</text>
<text x="346.4" y="974.1" font-size="12.6" text-anchor="middle" fill="#333">0.0</text>
<text x="424.5" y="974.1" font-size="12.6" text-anchor="middle" fill="#333">0.2</text>
<text x="502.6" y="974.1" font-size="12.6" text-anchor="middle" fill="#333">0.4</text>
<text x="346.2" y="993.1" font-size="16.5" text-anchor="middle" fill="#111">Correlation Coefficient</text>
<text x="596.6" y="602.4" font-size="16.4" fill="#111">abs(cor)</text>
<circle cx="611.3" cy="620.9" r="4.8" fill="#000"/>
<text x="626.3" y="626.3" font-size="15.3" fill="#111">0.1</text>
<circle cx="611.3" cy="640.5" r="6.2" fill="#000"/>
<text x="626.3" y="645.9" font-size="15.3" fill="#111">0.2</text>
<circle cx="611.3" cy="660.1" r="7.5" fill="#000"/>
<text x="626.3" y="665.5" font-size="15.3" fill="#111">0.3</text>
<circle cx="611.3" cy="679.7" r="8.9" fill="#000"/>
<text x="626.3" y="685.1" font-size="15.3" fill="#111">0.4</text>
<circle cx="611.3" cy="699.3" r="10.1" fill="#000"/>
<text x="626.3" y="704.7" font-size="15.3" fill="#111">0.5</text>
<text x="604.4" y="809.6" font-size="16" font-weight="bold" fill="#111">pvalue</text>
<rect x="612.6" y="826.70" width="34.2" height="20.1" fill="#176A35"/>
<rect x="612.6" y="846.74" width="34.2" height="20.1" fill="#52B33D"/>
<rect x="612.6" y="866.78" width="34.2" height="20.1" fill="#F39C1E"/>
<rect x="612.6" y="886.82" width="34.2" height="20.1" fill="#F4B7C5"/>
<rect x="612.6" y="906.86" width="34.2" height="20.1" fill="#FDD212"/>
<text x="656.4" y="830.9" font-size="11.7" fill="#111">0</text>
<text x="656.4" y="850.9" font-size="11.7" fill="#111">0.2</text>
<text x="656.4" y="871.0" font-size="11.7" fill="#111">0.4</text>
<text x="656.4" y="891.0" font-size="11.7" fill="#111">0.6</text>
<text x="656.4" y="911.1" font-size="11.7" fill="#111">0.8</text>
<text x="656.4" y="931.1" font-size="11.7" fill="#111">1</text>
</svg></body></html>
